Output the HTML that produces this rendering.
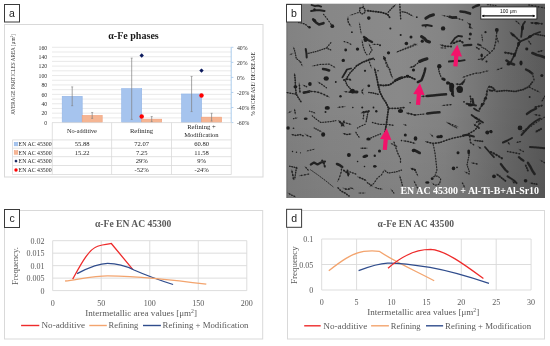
<!DOCTYPE html>
<html><head><meta charset="utf-8"><style>
html,body{margin:0;padding:0;background:#fff;width:550px;height:346px;overflow:hidden}
svg{display:block;font-family:"Liberation Serif", serif}
</style></head><body>
<svg width="550" height="346" viewBox="0 0 550 346">
<rect x="4.50" y="24.50" width="258.50" height="152.50" fill="#fff" stroke="#d9d9d9" stroke-width="1.00"/>
<rect x="4.50" y="4.50" width="15.00" height="17.50" fill="#fff" stroke="#3a3a3a" stroke-width="1.00"/>
<text x="12.00" y="17.05" font-size="10.5" text-anchor="middle" fill="#222" font-family='"Liberation Sans", sans-serif'>a</text>
<text x="133.50" y="38.60" font-size="10.00" text-anchor="middle" fill="#1a1a1a" font-weight="bold" textLength="50.5" lengthAdjust="spacingAndGlyphs">&#945;-Fe phases</text>
<line x1="52.00" y1="117.89" x2="231.20" y2="117.89" stroke="#e3e3e3" stroke-width="0.80"/>
<line x1="52.00" y1="113.19" x2="231.20" y2="113.19" stroke="#e3e3e3" stroke-width="0.80"/>
<line x1="52.00" y1="108.48" x2="231.20" y2="108.48" stroke="#e3e3e3" stroke-width="0.80"/>
<line x1="52.00" y1="103.77" x2="231.20" y2="103.77" stroke="#e3e3e3" stroke-width="0.80"/>
<line x1="52.00" y1="99.07" x2="231.20" y2="99.07" stroke="#e3e3e3" stroke-width="0.80"/>
<line x1="52.00" y1="94.36" x2="231.20" y2="94.36" stroke="#e3e3e3" stroke-width="0.80"/>
<line x1="52.00" y1="89.66" x2="231.20" y2="89.66" stroke="#e3e3e3" stroke-width="0.80"/>
<line x1="52.00" y1="84.95" x2="231.20" y2="84.95" stroke="#e3e3e3" stroke-width="0.80"/>
<line x1="52.00" y1="80.24" x2="231.20" y2="80.24" stroke="#e3e3e3" stroke-width="0.80"/>
<line x1="52.00" y1="75.54" x2="231.20" y2="75.54" stroke="#e3e3e3" stroke-width="0.80"/>
<line x1="52.00" y1="70.83" x2="231.20" y2="70.83" stroke="#e3e3e3" stroke-width="0.80"/>
<line x1="52.00" y1="66.12" x2="231.20" y2="66.12" stroke="#e3e3e3" stroke-width="0.80"/>
<line x1="52.00" y1="61.42" x2="231.20" y2="61.42" stroke="#e3e3e3" stroke-width="0.80"/>
<line x1="52.00" y1="56.71" x2="231.20" y2="56.71" stroke="#e3e3e3" stroke-width="0.80"/>
<line x1="52.00" y1="52.01" x2="231.20" y2="52.01" stroke="#e3e3e3" stroke-width="0.80"/>
<line x1="52.00" y1="47.30" x2="231.20" y2="47.30" stroke="#e3e3e3" stroke-width="0.80"/>
<text x="47.20" y="124.90" font-size="5.80" text-anchor="end" fill="#333" font-weight="normal">0</text>
<text x="47.20" y="115.49" font-size="5.80" text-anchor="end" fill="#333" font-weight="normal">20</text>
<text x="47.20" y="106.07" font-size="5.80" text-anchor="end" fill="#333" font-weight="normal">40</text>
<text x="47.20" y="96.66" font-size="5.80" text-anchor="end" fill="#333" font-weight="normal">60</text>
<text x="47.20" y="87.25" font-size="5.80" text-anchor="end" fill="#333" font-weight="normal">80</text>
<text x="47.20" y="77.84" font-size="5.80" text-anchor="end" fill="#333" font-weight="normal">100</text>
<text x="47.20" y="68.42" font-size="5.80" text-anchor="end" fill="#333" font-weight="normal">120</text>
<text x="47.20" y="59.01" font-size="5.80" text-anchor="end" fill="#333" font-weight="normal">140</text>
<text x="47.20" y="49.60" font-size="5.80" text-anchor="end" fill="#333" font-weight="normal">160</text>
<line x1="231.20" y1="47.30" x2="231.20" y2="122.60" stroke="#a3c6ea" stroke-width="0.90"/>
<line x1="231.20" y1="47.30" x2="233.40" y2="47.30" stroke="#a3c6ea" stroke-width="0.80"/>
<text x="236.90" y="49.70" font-size="5.80" text-anchor="start" fill="#333" font-weight="normal">40%</text>
<line x1="231.20" y1="62.36" x2="233.40" y2="62.36" stroke="#a3c6ea" stroke-width="0.80"/>
<text x="236.90" y="64.76" font-size="5.80" text-anchor="start" fill="#333" font-weight="normal">20%</text>
<line x1="231.20" y1="77.42" x2="233.40" y2="77.42" stroke="#a3c6ea" stroke-width="0.80"/>
<text x="236.90" y="79.82" font-size="5.80" text-anchor="start" fill="#333" font-weight="normal">0%</text>
<line x1="231.20" y1="92.48" x2="233.40" y2="92.48" stroke="#a3c6ea" stroke-width="0.80"/>
<text x="236.90" y="94.88" font-size="5.80" text-anchor="start" fill="#333" font-weight="normal">-20%</text>
<line x1="231.20" y1="107.54" x2="233.40" y2="107.54" stroke="#a3c6ea" stroke-width="0.80"/>
<text x="236.90" y="109.94" font-size="5.80" text-anchor="start" fill="#333" font-weight="normal">-40%</text>
<line x1="231.20" y1="122.60" x2="233.40" y2="122.60" stroke="#a3c6ea" stroke-width="0.80"/>
<text x="236.90" y="125.00" font-size="5.80" text-anchor="start" fill="#333" font-weight="normal">-60%</text>
<text transform="translate(15.4,74.5) rotate(-90)" font-size="5.8" text-anchor="middle" fill="#333" textLength="80.5" lengthAdjust="spacingAndGlyphs">AVERAGE PARTICLES AREA [&#956;m<tspan font-size="3.5" dy="-2">2</tspan><tspan dy="2">]</tspan></text>
<text transform="translate(255,84) rotate(-90)" font-size="5.8" text-anchor="middle" fill="#333" textLength="64" lengthAdjust="spacingAndGlyphs">% INCREASE/ DECREASE</text>
<rect x="62.20" y="96.30" width="20.00" height="26.30" fill="#a6c4ee" stroke="#8fb3e6" stroke-width="0.60"/>
<rect x="82.20" y="115.44" width="20.00" height="7.16" fill="#f5b593" stroke="#f2a07a" stroke-width="0.60"/>
<line x1="72.20" y1="86.88" x2="72.20" y2="105.70" stroke="#7f7f7f" stroke-width="0.70"/>
<line x1="71.20" y1="86.88" x2="73.20" y2="86.88" stroke="#7f7f7f" stroke-width="0.60"/>
<line x1="71.20" y1="105.70" x2="73.20" y2="105.70" stroke="#7f7f7f" stroke-width="0.60"/>
<line x1="92.20" y1="112.48" x2="92.20" y2="118.36" stroke="#7f7f7f" stroke-width="0.70"/>
<line x1="91.20" y1="112.48" x2="93.20" y2="112.48" stroke="#7f7f7f" stroke-width="0.60"/>
<line x1="91.20" y1="118.36" x2="93.20" y2="118.36" stroke="#7f7f7f" stroke-width="0.60"/>
<rect x="121.70" y="88.68" width="20.00" height="33.92" fill="#a6c4ee" stroke="#8fb3e6" stroke-width="0.60"/>
<rect x="141.70" y="119.19" width="20.00" height="3.41" fill="#f5b593" stroke="#f2a07a" stroke-width="0.60"/>
<line x1="131.70" y1="58.12" x2="131.70" y2="119.40" stroke="#7f7f7f" stroke-width="0.70"/>
<line x1="130.70" y1="58.12" x2="132.70" y2="58.12" stroke="#7f7f7f" stroke-width="0.60"/>
<line x1="130.70" y1="119.40" x2="132.70" y2="119.40" stroke="#7f7f7f" stroke-width="0.60"/>
<line x1="151.70" y1="116.48" x2="151.70" y2="121.80" stroke="#7f7f7f" stroke-width="0.70"/>
<line x1="150.70" y1="116.48" x2="152.70" y2="116.48" stroke="#7f7f7f" stroke-width="0.60"/>
<line x1="150.70" y1="121.80" x2="152.70" y2="121.80" stroke="#7f7f7f" stroke-width="0.60"/>
<rect x="181.60" y="93.99" width="20.00" height="28.61" fill="#a6c4ee" stroke="#8fb3e6" stroke-width="0.60"/>
<rect x="201.60" y="117.15" width="20.00" height="5.45" fill="#f5b593" stroke="#f2a07a" stroke-width="0.60"/>
<line x1="191.60" y1="76.48" x2="191.60" y2="111.59" stroke="#7f7f7f" stroke-width="0.70"/>
<line x1="190.60" y1="76.48" x2="192.60" y2="76.48" stroke="#7f7f7f" stroke-width="0.60"/>
<line x1="190.60" y1="111.59" x2="192.60" y2="111.59" stroke="#7f7f7f" stroke-width="0.60"/>
<line x1="211.60" y1="113.28" x2="211.60" y2="121.09" stroke="#7f7f7f" stroke-width="0.70"/>
<line x1="210.60" y1="113.28" x2="212.60" y2="113.28" stroke="#7f7f7f" stroke-width="0.60"/>
<line x1="210.60" y1="121.09" x2="212.60" y2="121.09" stroke="#7f7f7f" stroke-width="0.60"/>
<path d="M141.70 53.36l2.2 2.2l-2.2 2.2l-2.2 -2.2z" fill="#0d1b5e"/>
<path d="M201.50 68.42l2.2 2.2l-2.2 2.2l-2.2 -2.2z" fill="#0d1b5e"/>
<circle cx="141.70" cy="116.56" r="2.2" fill="#ff0000"/>
<circle cx="201.50" cy="95.47" r="2.2" fill="#ff0000"/>
<line x1="52.00" y1="122.60" x2="231.30" y2="122.60" stroke="#d9d9d9" stroke-width="0.80"/>
<line x1="12.50" y1="139.90" x2="231.30" y2="139.90" stroke="#d9d9d9" stroke-width="0.80"/>
<line x1="12.50" y1="148.20" x2="231.30" y2="148.20" stroke="#d9d9d9" stroke-width="0.80"/>
<line x1="12.50" y1="156.70" x2="231.30" y2="156.70" stroke="#d9d9d9" stroke-width="0.80"/>
<line x1="12.50" y1="165.50" x2="231.30" y2="165.50" stroke="#d9d9d9" stroke-width="0.80"/>
<line x1="12.50" y1="174.50" x2="231.30" y2="174.50" stroke="#d9d9d9" stroke-width="0.80"/>
<line x1="12.50" y1="139.90" x2="12.50" y2="174.50" stroke="#d9d9d9" stroke-width="0.80"/>
<line x1="52.30" y1="122.60" x2="52.30" y2="174.50" stroke="#d9d9d9" stroke-width="0.80"/>
<line x1="111.60" y1="122.60" x2="111.60" y2="174.50" stroke="#d9d9d9" stroke-width="0.80"/>
<line x1="171.50" y1="122.60" x2="171.50" y2="174.50" stroke="#d9d9d9" stroke-width="0.80"/>
<line x1="231.30" y1="122.60" x2="231.30" y2="174.50" stroke="#d9d9d9" stroke-width="0.80"/>
<text x="81.90" y="133.20" font-size="6.60" text-anchor="middle" fill="#262626" font-weight="normal" textLength="30.0" lengthAdjust="spacingAndGlyphs">No-additive</text>
<text x="141.50" y="133.20" font-size="6.60" text-anchor="middle" fill="#262626" font-weight="normal">Refining</text>
<text x="201.40" y="129.40" font-size="6.60" text-anchor="middle" fill="#262626" font-weight="normal">Refining +</text>
<text x="201.40" y="136.80" font-size="6.60" text-anchor="middle" fill="#262626" font-weight="normal">Modification</text>
<text x="18.60" y="146.15" font-size="6.60" text-anchor="start" fill="#262626" font-weight="normal" textLength="33.0" lengthAdjust="spacingAndGlyphs">EN AC 45300</text>
<rect x="14.20" y="142.25" width="3.60" height="3.60" fill="#a6c4ee" stroke="#8fb3e6" stroke-width="0.50"/>
<text x="82.20" y="146.15" font-size="6.60" text-anchor="middle" fill="#262626" font-weight="normal">55.88</text>
<text x="141.70" y="146.15" font-size="6.60" text-anchor="middle" fill="#262626" font-weight="normal">72.07</text>
<text x="201.60" y="146.15" font-size="6.60" text-anchor="middle" fill="#262626" font-weight="normal">60.80</text>
<text x="18.60" y="154.55" font-size="6.60" text-anchor="start" fill="#262626" font-weight="normal" textLength="33.0" lengthAdjust="spacingAndGlyphs">EN AC 43500</text>
<rect x="14.20" y="150.65" width="3.60" height="3.60" fill="#f5b593" stroke="#f2a07a" stroke-width="0.50"/>
<text x="82.20" y="154.55" font-size="6.60" text-anchor="middle" fill="#262626" font-weight="normal">15.22</text>
<text x="141.70" y="154.55" font-size="6.60" text-anchor="middle" fill="#262626" font-weight="normal">7.25</text>
<text x="201.60" y="154.55" font-size="6.60" text-anchor="middle" fill="#262626" font-weight="normal">11.58</text>
<text x="18.60" y="163.20" font-size="6.60" text-anchor="start" fill="#262626" font-weight="normal" textLength="33.0" lengthAdjust="spacingAndGlyphs">EN AC 45300</text>
<path d="M16 159.50l1.6 1.6l-1.6 1.6l-1.6 -1.6z" fill="#0f1f5c"/>
<text x="141.70" y="163.20" font-size="6.60" text-anchor="middle" fill="#262626" font-weight="normal">29%</text>
<text x="201.60" y="163.20" font-size="6.60" text-anchor="middle" fill="#262626" font-weight="normal">9%</text>
<text x="18.60" y="172.10" font-size="6.60" text-anchor="start" fill="#262626" font-weight="normal" textLength="33.0" lengthAdjust="spacingAndGlyphs">EN AC 43500</text>
<circle cx="16" cy="170.00" r="1.7" fill="#ff0000"/>
<text x="141.70" y="172.10" font-size="6.60" text-anchor="middle" fill="#262626" font-weight="normal">-52%</text>
<text x="201.60" y="172.10" font-size="6.60" text-anchor="middle" fill="#262626" font-weight="normal">-24%</text>
<defs><linearGradient id="hg" x1="0" y1="0" x2="1" y2="0"><stop offset="0.000" stop-color="#828282"/><stop offset="0.170" stop-color="#878787"/><stop offset="0.440" stop-color="#8a8a8a"/><stop offset="0.614" stop-color="#848484"/><stop offset="0.730" stop-color="#787878"/><stop offset="0.846" stop-color="#6a6a6a"/><stop offset="1.000" stop-color="#5a5a5a"/></linearGradient><linearGradient id="vg" x1="0" y1="0" x2="0" y2="1"><stop offset="0" stop-color="#000" stop-opacity="0"/><stop offset="0.5" stop-color="#000" stop-opacity="0.01"/><stop offset="1" stop-color="#000" stop-opacity="0.07"/></linearGradient></defs>
<rect x="286.30" y="3.70" width="258.70" height="194.30" fill="url(#hg)" stroke="none" stroke-width="1.00"/>
<rect x="286.30" y="3.70" width="258.70" height="194.30" fill="url(#vg)" stroke="none" stroke-width="1.00"/>
<rect x="286.30" y="3.70" width="1.60" height="194.30" fill="#000" stroke="none" stroke-width="1.00" fill-opacity="0.08"/>
<defs><clipPath id="mc"><rect x="286.3" y="3.7" width="258.7" height="194.3"/></clipPath><filter id="sb" x="-5%" y="-5%" width="110%" height="110%"><feGaussianBlur stdDeviation="0.3"/></filter></defs>
<g clip-path="url(#mc)"><g filter="url(#sb)" stroke="#222" fill="none" stroke-linecap="round" stroke-linejoin="round">
<polyline points="311.6,5.0 315.0,6.2 318.0,5.6 321.2,6.6" stroke-width="1.8"/>
<polyline points="311.2,11.0 316.0,10.2 320.0,10.3 324.5,10.9" stroke-width="2.0"/>
<polyline points="313.2,19.3 316.0,22.5 319.0,24.5 323.5,23.2" stroke-width="2.6"/>
<polyline points="298.7,22.5 302.0,23.0 305.0,24.2 307.0,25.5 308.5,27.2" stroke-width="0.60" stroke="#3a3a3a"/>
<polyline points="298.7,22.5 302.0,23.0 305.0,24.2 307.0,25.5 308.5,27.2" stroke-width="1.35" stroke-dasharray="0.4 2.2" stroke-dashoffset="0.3"/>
<polyline points="323.6,14.3 328.0,20.0 332.0,25.6" stroke-width="0.54" stroke="#3a3a3a"/>
<polyline points="323.6,14.3 328.0,20.0 332.0,25.6" stroke-width="1.22" stroke-dasharray="0.4 2.6" stroke-dashoffset="0.1"/>
<polyline points="348.0,17.0 347.8,21.0 349.5,24.5 351.0,26.5" stroke-width="0.66" stroke="#3a3a3a"/>
<polyline points="348.0,17.0 347.8,21.0 349.5,24.5 351.0,26.5" stroke-width="1.49" stroke-dasharray="0.4 2.4" stroke-dashoffset="0.7"/>
<polyline points="293.5,47.2 295.0,52.0 296.3,58.5 301.0,62.2" stroke-width="0.54" stroke="#3a3a3a"/>
<polyline points="293.5,47.2 295.0,52.0 296.3,58.5 301.0,62.2" stroke-width="1.22" stroke-dasharray="0.4 1.9" stroke-dashoffset="1.0"/>
<polyline points="289.8,54.7 293.0,53.5" stroke-width="0.48" stroke="#3a3a3a"/>
<polyline points="289.8,54.7 293.0,53.5" stroke-width="1.08" stroke-dasharray="0.4 1.8" stroke-dashoffset="0.9"/>
<polyline points="305.7,49.0 306.4,53.0 306.7,57.5" stroke-width="2.0"/>
<polyline points="306.7,53.8 316.0,51.5 326.4,48.1" stroke-width="0.54" stroke="#3a3a3a"/>
<polyline points="306.7,53.8 316.0,51.5 326.4,48.1" stroke-width="1.22" stroke-dasharray="0.4 1.9" stroke-dashoffset="0.2"/>
<polyline points="326.4,48.1 331.0,42.5" stroke-width="0.54" stroke="#3a3a3a"/>
<polyline points="326.4,48.1 331.0,42.5" stroke-width="1.22" stroke-dasharray="0.4 2.3" stroke-dashoffset="1.7"/>
<polyline points="326.4,48.1 331.0,50.0" stroke-width="0.54" stroke="#3a3a3a"/>
<polyline points="326.4,48.1 331.0,50.0" stroke-width="1.22" stroke-dasharray="0.4 1.9" stroke-dashoffset="0.4"/>
<polyline points="299.5,61.0 302.5,66.0" stroke-width="0.48" stroke="#3a3a3a"/>
<polyline points="299.5,61.0 302.5,66.0" stroke-width="1.08" stroke-dasharray="0.4 2.6" stroke-dashoffset="1.9"/>
<polyline points="312.3,66.0 320.0,64.5 329.2,64.1 335.0,67.5" stroke-width="0.54" stroke="#3a3a3a"/>
<polyline points="312.3,66.0 320.0,64.5 329.2,64.1 335.0,67.5" stroke-width="1.22" stroke-dasharray="0.4 2.5" stroke-dashoffset="0.8"/>
<polyline points="344.2,41.6 347.5,42.5 351.0,44.4" stroke-width="0.54" stroke="#3a3a3a"/>
<polyline points="344.2,41.6 347.5,42.5 351.0,44.4" stroke-width="1.22" stroke-dasharray="0.4 3.0" stroke-dashoffset="0.1"/>
<polyline points="363.0,4.0 363.5,8.0" stroke-width="0.54" stroke="#3a3a3a"/>
<polyline points="363.0,4.0 363.5,8.0" stroke-width="1.22" stroke-dasharray="0.4 2.8" stroke-dashoffset="0.6"/>
<polyline points="360.0,8.0 362.5,7.5 365.0,9.0 365.0,12.5 362.0,14.0 359.5,12.0 360.0,8.0" stroke-width="0.60" stroke="#3a3a3a"/>
<polyline points="360.0,8.0 362.5,7.5 365.0,9.0 365.0,12.5 362.0,14.0 359.5,12.0 360.0,8.0" stroke-width="1.35" stroke-dasharray="0.4 2.0" stroke-dashoffset="0.2"/>
<polyline points="366.9,10.6 370.0,11.0 374.4,11.5 382.0,12.5 387.6,14.3 389.5,17.2" stroke-width="0.84" stroke="#3a3a3a"/>
<polyline points="366.9,10.6 370.0,11.0 374.4,11.5 382.0,12.5 387.6,14.3 389.5,17.2" stroke-width="1.89" stroke-dasharray="0.4 2.2" stroke-dashoffset="1.6"/>
<polyline points="387.6,13.0 391.0,9.0 394.0,5.9" stroke-width="0.60" stroke="#3a3a3a"/>
<polyline points="387.6,13.0 391.0,9.0 394.0,5.9" stroke-width="1.35" stroke-dasharray="0.4 2.0" stroke-dashoffset="1.2"/>
<polyline points="393.0,7.8 396.0,4.0" stroke-width="0.48" stroke="#3a3a3a"/>
<polyline points="393.0,7.8 396.0,4.0" stroke-width="1.08" stroke-dasharray="0.4 2.6" stroke-dashoffset="0.7"/>
<polyline points="399.8,4.0 400.2,11.0 400.7,19.0" stroke-width="0.66" stroke="#3a3a3a"/>
<polyline points="399.8,4.0 400.2,11.0 400.7,19.0" stroke-width="1.49" stroke-dasharray="0.4 2.5" stroke-dashoffset="0.1"/>
<polyline points="400.7,11.5 406.4,12.5 413.0,16.2" stroke-width="0.60" stroke="#3a3a3a"/>
<polyline points="400.7,11.5 406.4,12.5 413.0,16.2" stroke-width="1.35" stroke-dasharray="0.4 1.9" stroke-dashoffset="0.4"/>
<polyline points="350.0,15.3 354.0,14.0 358.5,12.5" stroke-width="0.48" stroke="#3a3a3a"/>
<polyline points="350.0,15.3 354.0,14.0 358.5,12.5" stroke-width="1.08" stroke-dasharray="0.4 2.6" stroke-dashoffset="0.9"/>
<polyline points="359.4,22.8 360.2,28.0 361.3,34.0" stroke-width="0.48" stroke="#3a3a3a"/>
<polyline points="359.4,22.8 360.2,28.0 361.3,34.0" stroke-width="1.08" stroke-dasharray="0.4 2.2" stroke-dashoffset="1.2"/>
<polyline points="364.0,37.0 368.0,40.0 372.0,42.0" stroke-width="2.4"/>
<polyline points="362.0,40.0 363.0,46.0 365.0,52.0 366.9,54.7" stroke-width="0.54" stroke="#3a3a3a"/>
<polyline points="362.0,40.0 363.0,46.0 365.0,52.0 366.9,54.7" stroke-width="1.22" stroke-dasharray="0.4 2.3" stroke-dashoffset="0.6"/>
<polyline points="372.5,44.4 378.2,44.4" stroke-width="0.54" stroke="#3a3a3a"/>
<polyline points="372.5,44.4 378.2,44.4" stroke-width="1.22" stroke-dasharray="0.4 2.8" stroke-dashoffset="1.4"/>
<polyline points="369.0,44.0 372.0,50.0 369.5,54.0" stroke-width="0.54" stroke="#3a3a3a"/>
<polyline points="369.0,44.0 372.0,50.0 369.5,54.0" stroke-width="1.22" stroke-dasharray="0.4 2.1" stroke-dashoffset="1.1"/>
<polyline points="355.6,66.0 363.0,62.0 370.7,58.5 374.4,59.5" stroke-width="0.60" stroke="#3a3a3a"/>
<polyline points="355.6,66.0 363.0,62.0 370.7,58.5 374.4,59.5" stroke-width="1.35" stroke-dasharray="0.4 2.4" stroke-dashoffset="1.8"/>
<polyline points="368.8,60.0 370.0,64.0 371.6,68.0" stroke-width="0.54" stroke="#3a3a3a"/>
<polyline points="368.8,60.0 370.0,64.0 371.6,68.0" stroke-width="1.22" stroke-dasharray="0.4 2.7" stroke-dashoffset="0.6"/>
<polyline points="383.8,56.6 385.5,62.0 387.6,67.9" stroke-width="0.54" stroke="#3a3a3a"/>
<polyline points="383.8,56.6 385.5,62.0 387.6,67.9" stroke-width="1.22" stroke-dasharray="0.4 3.0" stroke-dashoffset="0.2"/>
<polyline points="397.0,52.0 405.0,48.5 414.8,44.4" stroke-width="0.48" stroke="#3a3a3a"/>
<polyline points="397.0,52.0 405.0,48.5 414.8,44.4" stroke-width="1.08" stroke-dasharray="0.4 2.3" stroke-dashoffset="1.5"/>
<polyline points="410.0,67.5 415.0,66.0" stroke-width="0.72" stroke="#3a3a3a"/>
<polyline points="410.0,67.5 415.0,66.0" stroke-width="1.62" stroke-dasharray="0.4 2.0" stroke-dashoffset="1.0"/>
<polyline points="425.8,18.3 429.5,16.0 433.5,14.8" stroke-width="3.0"/>
<polyline points="422.5,25.5 427.0,25.0 431.8,26.0" stroke-width="2.0"/>
<polyline points="425.5,25.0 425.8,27.8" stroke-width="0.72" stroke="#3a3a3a"/>
<polyline points="425.5,25.0 425.8,27.8" stroke-width="1.62" stroke-dasharray="0.4 1.8" stroke-dashoffset="1.3"/>
<polyline points="421.5,36.5 424.5,38.5 426.5,41.0 429.5,42.0" stroke-width="3.0"/>
<polyline points="442.2,15.3 450.0,17.0 456.0,18.0 462.8,20.0" stroke-width="0.54" stroke="#3a3a3a"/>
<polyline points="442.2,15.3 450.0,17.0 456.0,18.0 462.8,20.0" stroke-width="1.22" stroke-dasharray="0.4 2.7" stroke-dashoffset="1.1"/>
<polyline points="449.5,16.8 452.0,17.6 456.0,17.4" stroke-width="2.6"/>
<polyline points="460.5,11.5 465.0,12.0 470.0,13.6" stroke-width="2.6"/>
<polyline points="473.0,7.5 476.0,6.0 479.0,5.0" stroke-width="2.4"/>
<polyline points="467.5,22.8 470.0,24.5 469.5,27.0 472.2,28.4" stroke-width="0.96" stroke="#3a3a3a"/>
<polyline points="467.5,22.8 470.0,24.5 469.5,27.0 472.2,28.4" stroke-width="2.16" stroke-dasharray="0.4 2.9" stroke-dashoffset="0.6"/>
<polyline points="451.0,43.5 455.0,38.0 458.5,35.8 462.0,36.5" stroke-width="1.8"/>
<polyline points="452.5,43.8 457.0,41.5 460.5,40.8 462.8,42.5" stroke-width="0.96" stroke="#3a3a3a"/>
<polyline points="452.5,43.8 457.0,41.5 460.5,40.8 462.8,42.5" stroke-width="2.16" stroke-dasharray="0.4 2.6" stroke-dashoffset="1.2"/>
<polyline points="440.3,44.8 445.0,46.2 451.6,46.5" stroke-width="0.84" stroke="#3a3a3a"/>
<polyline points="440.3,44.8 445.0,46.2 451.6,46.5" stroke-width="1.89" stroke-dasharray="0.4 2.5" stroke-dashoffset="0.9"/>
<polyline points="440.5,47.8 446.0,48.1" stroke-width="0.48" stroke="#3a3a3a"/>
<polyline points="440.5,47.8 446.0,48.1" stroke-width="1.08" stroke-dasharray="0.4 2.8" stroke-dashoffset="1.9"/>
<polyline points="463.8,45.5 467.0,45.2 471.3,44.8" stroke-width="2.2"/>
<polyline points="419.5,61.5 423.0,60.0 427.0,58.8" stroke-width="3.0"/>
<polyline points="414.0,66.0 418.0,63.0" stroke-width="0.60" stroke="#3a3a3a"/>
<polyline points="414.0,66.0 418.0,63.0" stroke-width="1.35" stroke-dasharray="0.4 2.4" stroke-dashoffset="1.3"/>
<polyline points="449.0,61.6 455.0,61.0 459.0,60.8" stroke-width="2.0"/>
<polyline points="459.0,61.2 464.7,60.2" stroke-width="1.8"/>
<polyline points="476.0,47.2 479.0,49.0" stroke-width="0.72" stroke="#3a3a3a"/>
<polyline points="476.0,47.2 479.0,49.0" stroke-width="1.62" stroke-dasharray="0.4 1.9" stroke-dashoffset="1.4"/>
<polyline points="414.0,44.0 417.0,45.0" stroke-width="0.60" stroke="#3a3a3a"/>
<polyline points="414.0,44.0 417.0,45.0" stroke-width="1.35" stroke-dasharray="0.4 2.6" stroke-dashoffset="2.0"/>
<polyline points="496.8,30.0 496.8,32.1 495.8,41.5 494.0,49.0 490.2,52.8 485.5,56.5 481.8,60.3" stroke-width="0.66" stroke="#3a3a3a"/>
<polyline points="496.8,30.0 496.8,32.1 495.8,41.5 494.0,49.0 490.2,52.8 485.5,56.5 481.8,60.3" stroke-width="1.49" stroke-dasharray="0.4 2.8" stroke-dashoffset="0.6"/>
<polyline points="496.8,37.0 498.6,43.0" stroke-width="0.54" stroke="#3a3a3a"/>
<polyline points="496.8,37.0 498.6,43.0" stroke-width="1.22" stroke-dasharray="0.4 2.3" stroke-dashoffset="1.3"/>
<polyline points="490.2,52.8 485.5,49.0 481.8,47.2" stroke-width="0.54" stroke="#3a3a3a"/>
<polyline points="490.2,52.8 485.5,49.0 481.8,47.2" stroke-width="1.22" stroke-dasharray="0.4 1.8" stroke-dashoffset="0.9"/>
<polyline points="478.0,44.3 480.8,45.3" stroke-width="1.8"/>
<polyline points="481.8,35.0 482.7,41.5" stroke-width="0.48" stroke="#3a3a3a"/>
<polyline points="481.8,35.0 482.7,41.5" stroke-width="1.08" stroke-dasharray="0.4 2.0" stroke-dashoffset="0.2"/>
<polyline points="478.0,59.5 483.6,58.6" stroke-width="0.60" stroke="#3a3a3a"/>
<polyline points="478.0,59.5 483.6,58.6" stroke-width="1.35" stroke-dasharray="0.4 1.9" stroke-dashoffset="1.5"/>
<polyline points="509.9,32.2 515.5,36.8 520.2,41.5 517.4,47.2 515.5,52.8 512.7,58.4 510.8,62.2" stroke-width="0.90" stroke="#3a3a3a"/>
<polyline points="509.9,32.2 515.5,36.8 520.2,41.5 517.4,47.2 515.5,52.8 512.7,58.4 510.8,62.2" stroke-width="2.03" stroke-dasharray="0.4 2.0" stroke-dashoffset="0.5"/>
<polyline points="521.2,36.8 522.0,30.0 523.0,24.6 525.0,21.8" stroke-width="1.8"/>
<polyline points="515.5,20.9 518.0,22.5 520.0,25.0" stroke-width="0.60" stroke="#3a3a3a"/>
<polyline points="515.5,20.9 518.0,22.5 520.0,25.0" stroke-width="1.35" stroke-dasharray="0.4 2.3" stroke-dashoffset="1.7"/>
<polyline points="520.2,41.5 526.8,38.7 534.3,34.0 540.0,32.0" stroke-width="1.8"/>
<polyline points="534.3,34.0 540.0,35.0 545.0,35.9" stroke-width="0.72" stroke="#3a3a3a"/>
<polyline points="534.3,34.0 540.0,35.0 545.0,35.9" stroke-width="1.62" stroke-dasharray="0.4 1.9" stroke-dashoffset="0.9"/>
<polyline points="506.5,60.5 510.0,63.0 514.0,64.5" stroke-width="2.6"/>
<polyline points="504.3,52.5 510.0,53.3 515.5,54.7" stroke-width="0.96" stroke="#3a3a3a"/>
<polyline points="504.3,52.5 510.0,53.3 515.5,54.7" stroke-width="2.16" stroke-dasharray="0.4 2.5" stroke-dashoffset="1.8"/>
<polyline points="530.5,22.8 536.0,23.2 541.8,23.7" stroke-width="0.90" stroke="#3a3a3a"/>
<polyline points="530.5,22.8 536.0,23.2 541.8,23.7" stroke-width="2.03" stroke-dasharray="0.4 2.8" stroke-dashoffset="1.7"/>
<polyline points="532.4,53.0 537.0,55.0 541.0,56.0 545.0,57.5" stroke-width="2.6"/>
<polyline points="537.0,52.0 543.0,50.5" stroke-width="0.72" stroke="#3a3a3a"/>
<polyline points="537.0,52.0 543.0,50.5" stroke-width="1.62" stroke-dasharray="0.4 2.1" stroke-dashoffset="0.8"/>
<polyline points="487.0,4.5 496.0,5.5" stroke-width="0.48" stroke="#3a3a3a"/>
<polyline points="487.0,4.5 496.0,5.5" stroke-width="1.08" stroke-dasharray="0.4 2.2" stroke-dashoffset="1.8"/>
<polyline points="529.0,5.0 545.0,8.0" stroke-width="0.60" stroke="#3a3a3a"/>
<polyline points="529.0,5.0 545.0,8.0" stroke-width="1.35" stroke-dasharray="0.4 2.9" stroke-dashoffset="0.3"/>
<polyline points="528.0,40.0 531.0,44.5" stroke-width="0.60" stroke="#3a3a3a"/>
<polyline points="528.0,40.0 531.0,44.5" stroke-width="1.35" stroke-dasharray="0.4 2.0" stroke-dashoffset="0.5"/>
<polyline points="294.5,73.6 295.2,80.0 295.5,88.0 296.3,94.3 298.5,98.0 301.0,101.8" stroke-width="0.72" stroke="#3a3a3a"/>
<polyline points="294.5,73.6 295.2,80.0 295.5,88.0 296.3,94.3 298.5,98.0 301.0,101.8" stroke-width="1.62" stroke-dasharray="0.4 2.1" stroke-dashoffset="1.0"/>
<polyline points="299.2,83.0 299.6,88.0 300.0,92.4" stroke-width="0.72" stroke="#3a3a3a"/>
<polyline points="299.2,83.0 299.6,88.0 300.0,92.4" stroke-width="1.62" stroke-dasharray="0.4 2.5" stroke-dashoffset="0.5"/>
<polyline points="303.0,85.0 306.7,86.8" stroke-width="0.60" stroke="#3a3a3a"/>
<polyline points="303.0,85.0 306.7,86.8" stroke-width="1.35" stroke-dasharray="0.4 1.8" stroke-dashoffset="0.8"/>
<polyline points="286.0,92.4 292.0,93.5 297.3,94.3" stroke-width="0.60" stroke="#3a3a3a"/>
<polyline points="286.0,92.4 292.0,93.5 297.3,94.3" stroke-width="1.35" stroke-dasharray="0.4 2.2" stroke-dashoffset="1.1"/>
<polyline points="303.8,92.6 307.0,92.0 309.5,91.4" stroke-width="2.6"/>
<polyline points="309.5,91.4 314.2,91.5 319.0,92.5 323.6,94.3 329.2,97.1" stroke-width="0.72" stroke="#3a3a3a"/>
<polyline points="309.5,91.4 314.2,91.5 319.0,92.5 323.6,94.3 329.2,97.1" stroke-width="1.62" stroke-dasharray="0.4 2.9" stroke-dashoffset="1.4"/>
<polyline points="318.0,82.0 322.0,84.5 326.4,87.7" stroke-width="0.60" stroke="#3a3a3a"/>
<polyline points="318.0,82.0 322.0,84.5 326.4,87.7" stroke-width="1.35" stroke-dasharray="0.4 2.4" stroke-dashoffset="1.2"/>
<polyline points="323.0,69.0 326.0,69.5 329.2,70.5" stroke-width="2.4"/>
<polyline points="342.4,77.4 345.0,73.0 347.0,69.5 351.0,68.5" stroke-width="1.8"/>
<polyline points="344.0,80.0 348.0,79.0 351.0,80.0" stroke-width="0.84" stroke="#3a3a3a"/>
<polyline points="344.0,80.0 348.0,79.0 351.0,80.0" stroke-width="1.89" stroke-dasharray="0.4 2.6" stroke-dashoffset="0.1"/>
<polyline points="344.2,91.5 351.0,92.4" stroke-width="0.60" stroke="#3a3a3a"/>
<polyline points="344.2,91.5 351.0,92.4" stroke-width="1.35" stroke-dasharray="0.4 2.9" stroke-dashoffset="1.6"/>
<polyline points="337.7,107.5 341.0,107.0 345.2,106.5" stroke-width="0.60" stroke="#3a3a3a"/>
<polyline points="337.7,107.5 341.0,107.0 345.2,106.5" stroke-width="1.35" stroke-dasharray="0.4 2.8" stroke-dashoffset="1.6"/>
<polyline points="287.9,113.0 291.6,111.2" stroke-width="0.54" stroke="#3a3a3a"/>
<polyline points="287.9,113.0 291.6,111.2" stroke-width="1.22" stroke-dasharray="0.4 2.3" stroke-dashoffset="0.8"/>
<polyline points="294.5,109.3 295.4,114.0" stroke-width="0.60" stroke="#3a3a3a"/>
<polyline points="294.5,109.3 295.4,114.0" stroke-width="1.35" stroke-dasharray="0.4 1.9" stroke-dashoffset="1.3"/>
<polyline points="293.5,118.7 297.3,117.8" stroke-width="0.54" stroke="#3a3a3a"/>
<polyline points="293.5,118.7 297.3,117.8" stroke-width="1.22" stroke-dasharray="0.4 1.9" stroke-dashoffset="0.1"/>
<polyline points="309.5,111.2 312.5,112.0 315.1,113.1" stroke-width="0.54" stroke="#3a3a3a"/>
<polyline points="309.5,111.2 312.5,112.0 315.1,113.1" stroke-width="1.22" stroke-dasharray="0.4 2.1" stroke-dashoffset="0.3"/>
<polyline points="312.3,115.9 316.0,119.0 320.8,122.5 326.0,122.0 331.1,121.5 335.8,120.6" stroke-width="0.54" stroke="#3a3a3a"/>
<polyline points="312.3,115.9 316.0,119.0 320.8,122.5 326.0,122.0 331.1,121.5 335.8,120.6" stroke-width="1.22" stroke-dasharray="0.4 2.2" stroke-dashoffset="0.1"/>
<polyline points="314.2,128.0 318.0,130.0 321.7,131.9" stroke-width="0.54" stroke="#3a3a3a"/>
<polyline points="314.2,128.0 318.0,130.0 321.7,131.9" stroke-width="1.22" stroke-dasharray="0.4 1.8" stroke-dashoffset="0.3"/>
<polyline points="338.6,120.6 341.5,123.5 344.2,126.2" stroke-width="0.96" stroke="#3a3a3a"/>
<polyline points="338.6,120.6 341.5,123.5 344.2,126.2" stroke-width="2.16" stroke-dasharray="0.4 1.9" stroke-dashoffset="0.7"/>
<polyline points="341.5,126.0 344.0,121.0" stroke-width="0.72" stroke="#3a3a3a"/>
<polyline points="341.5,126.0 344.0,121.0" stroke-width="1.62" stroke-dasharray="0.4 1.8" stroke-dashoffset="1.7"/>
<polyline points="344.2,122.5 351.0,124.4" stroke-width="0.60" stroke="#3a3a3a"/>
<polyline points="344.2,122.5 351.0,124.4" stroke-width="1.35" stroke-dasharray="0.4 2.5" stroke-dashoffset="0.3"/>
<polyline points="374.4,68.0 376.3,75.5 378.2,84.9 380.0,92.4 382.9,98.0 386.6,103.7 388.5,108.4 387.6,115.0 386.6,122.5 385.7,128.0 385.0,133.0" stroke-width="0.84" stroke="#3a3a3a"/>
<polyline points="374.4,68.0 376.3,75.5 378.2,84.9 380.0,92.4 382.9,98.0 386.6,103.7 388.5,108.4 387.6,115.0 386.6,122.5 385.7,128.0 385.0,133.0" stroke-width="1.89" stroke-dasharray="0.4 2.1" stroke-dashoffset="0.7"/>
<polyline points="378.2,85.0 384.0,85.5 389.5,84.9 395.0,81.2 400.7,78.3 406.4,76.5 410.0,77.0 415.0,79.3" stroke-width="0.90" stroke="#3a3a3a"/>
<polyline points="378.2,85.0 384.0,85.5 389.5,84.9 395.0,81.2 400.7,78.3 406.4,76.5 410.0,77.0 415.0,79.3" stroke-width="2.03" stroke-dasharray="0.4 2.2" stroke-dashoffset="0.2"/>
<polyline points="395.0,80.5 399.0,78.5 402.0,77.5" stroke-width="2.4"/>
<polyline points="389.5,68.0 390.5,72.0 391.3,75.5" stroke-width="0.48" stroke="#3a3a3a"/>
<polyline points="389.5,68.0 390.5,72.0 391.3,75.5" stroke-width="1.08" stroke-dasharray="0.4 2.8" stroke-dashoffset="2.0"/>
<polyline points="351.0,91.5 354.0,91.8 357.0,92.0" stroke-width="3.0"/>
<polyline points="363.5,88.7 361.6,91.5 363.5,94.3" stroke-width="0.66" stroke="#3a3a3a"/>
<polyline points="363.5,88.7 361.6,91.5 363.5,94.3" stroke-width="1.49" stroke-dasharray="0.4 2.4" stroke-dashoffset="1.0"/>
<polyline points="368.8,92.4 373.0,93.0 378.2,94.3" stroke-width="0.66" stroke="#3a3a3a"/>
<polyline points="368.8,92.4 373.0,93.0 378.2,94.3" stroke-width="1.49" stroke-dasharray="0.4 1.9" stroke-dashoffset="0.2"/>
<polyline points="361.3,113.0 364.0,112.0 368.8,111.2" stroke-width="0.96" stroke="#3a3a3a"/>
<polyline points="361.3,113.0 364.0,112.0 368.8,111.2" stroke-width="2.16" stroke-dasharray="0.4 2.2" stroke-dashoffset="0.5"/>
<polyline points="364.0,112.5 363.2,118.7" stroke-width="0.60" stroke="#3a3a3a"/>
<polyline points="364.0,112.5 363.2,118.7" stroke-width="1.35" stroke-dasharray="0.4 2.8" stroke-dashoffset="0.3"/>
<polyline points="368.0,112.0 367.0,117.0 366.0,122.5" stroke-width="0.60" stroke="#3a3a3a"/>
<polyline points="368.0,112.0 367.0,117.0 366.0,122.5" stroke-width="1.35" stroke-dasharray="0.4 1.8" stroke-dashoffset="1.9"/>
<polyline points="357.5,128.0 361.0,126.0 365.0,124.4" stroke-width="0.54" stroke="#3a3a3a"/>
<polyline points="357.5,128.0 361.0,126.0 365.0,124.4" stroke-width="1.22" stroke-dasharray="0.4 2.4" stroke-dashoffset="0.3"/>
<polyline points="372.5,122.5 376.0,123.5 380.0,124.4 387.6,124.4 393.2,125.3" stroke-width="0.60" stroke="#3a3a3a"/>
<polyline points="372.5,122.5 376.0,123.5 380.0,124.4 387.6,124.4 393.2,125.3" stroke-width="1.35" stroke-dasharray="0.4 2.5" stroke-dashoffset="0.1"/>
<polyline points="388.5,108.4 393.0,108.4 397.0,108.4 404.5,107.5" stroke-width="0.72" stroke="#3a3a3a"/>
<polyline points="388.5,108.4 393.0,108.4 397.0,108.4 404.5,107.5" stroke-width="1.62" stroke-dasharray="0.4 2.4" stroke-dashoffset="2.0"/>
<polyline points="406.4,113.0 411.0,114.0 415.0,115.0" stroke-width="0.84" stroke="#3a3a3a"/>
<polyline points="406.4,113.0 411.0,114.0 415.0,115.0" stroke-width="1.89" stroke-dasharray="0.4 2.8" stroke-dashoffset="1.4"/>
<polyline points="403.5,124.4 406.4,125.3" stroke-width="0.60" stroke="#3a3a3a"/>
<polyline points="403.5,124.4 406.4,125.3" stroke-width="1.35" stroke-dasharray="0.4 2.1" stroke-dashoffset="0.7"/>
<polyline points="425.3,68.5 424.5,72.0 423.4,75.5 421.5,80.2 417.8,82.1" stroke-width="2.4"/>
<polyline points="438.4,68.0 439.5,73.0 441.2,77.4" stroke-width="0.60" stroke="#3a3a3a"/>
<polyline points="438.4,68.0 439.5,73.0 441.2,77.4" stroke-width="1.35" stroke-dasharray="0.4 2.0" stroke-dashoffset="1.5"/>
<polyline points="449.5,83.0 452.0,88.0 453.0,92.0" stroke-width="1.8"/>
<polyline points="456.0,84.0 460.0,84.5 463.8,82.0" stroke-width="0.84" stroke="#3a3a3a"/>
<polyline points="456.0,84.0 460.0,84.5 463.8,82.0" stroke-width="1.89" stroke-dasharray="0.4 2.4" stroke-dashoffset="1.6"/>
<polyline points="463.0,82.0 465.5,79.0" stroke-width="0.60" stroke="#3a3a3a"/>
<polyline points="463.0,82.0 465.5,79.0" stroke-width="1.35" stroke-dasharray="0.4 2.2" stroke-dashoffset="0.4"/>
<polyline points="462.8,77.4 468.0,75.5 474.1,73.6 479.0,72.7" stroke-width="0.60" stroke="#3a3a3a"/>
<polyline points="462.8,77.4 468.0,75.5 474.1,73.6 479.0,72.7" stroke-width="1.35" stroke-dasharray="0.4 2.8" stroke-dashoffset="2.0"/>
<polyline points="427.0,96.0 433.0,95.5 440.0,94.8 446.0,94.3" stroke-width="2.6"/>
<polyline points="421.5,96.5 427.0,96.0" stroke-width="0.72" stroke="#3a3a3a"/>
<polyline points="421.5,96.5 427.0,96.0" stroke-width="1.62" stroke-dasharray="0.4 2.8" stroke-dashoffset="1.6"/>
<polyline points="442.2,105.6 447.0,105.0 451.6,104.6" stroke-width="0.60" stroke="#3a3a3a"/>
<polyline points="442.2,105.6 447.0,105.0 451.6,104.6" stroke-width="1.35" stroke-dasharray="0.4 2.8" stroke-dashoffset="1.5"/>
<polyline points="414.0,115.0 420.0,114.5 425.3,114.0" stroke-width="0.54" stroke="#3a3a3a"/>
<polyline points="414.0,115.0 420.0,114.5 425.3,114.0" stroke-width="1.22" stroke-dasharray="0.4 2.1" stroke-dashoffset="1.0"/>
<polyline points="427.2,113.5 433.0,112.8 439.4,112.3" stroke-width="2.6"/>
<polyline points="466.6,103.7 471.0,104.5 476.0,105.6" stroke-width="2.0"/>
<polyline points="470.3,96.2 471.0,100.0 470.5,103.5" stroke-width="0.72" stroke="#3a3a3a"/>
<polyline points="470.3,96.2 471.0,100.0 470.5,103.5" stroke-width="1.62" stroke-dasharray="0.4 2.2" stroke-dashoffset="0.1"/>
<polyline points="474.0,108.5 477.0,110.5 479.0,111.0" stroke-width="1.8"/>
<polyline points="446.9,122.5 452.0,125.5 457.2,128.1" stroke-width="0.48" stroke="#3a3a3a"/>
<polyline points="446.9,122.5 452.0,125.5 457.2,128.1" stroke-width="1.08" stroke-dasharray="0.4 1.8" stroke-dashoffset="0.6"/>
<polyline points="474.0,124.4 479.0,128.0" stroke-width="0.84" stroke="#3a3a3a"/>
<polyline points="474.0,124.4 479.0,128.0" stroke-width="1.89" stroke-dasharray="0.4 2.1" stroke-dashoffset="1.4"/>
<polyline points="478.0,73.6 483.0,72.0 488.3,70.8" stroke-width="0.54" stroke="#3a3a3a"/>
<polyline points="478.0,73.6 483.0,72.0 488.3,70.8" stroke-width="1.22" stroke-dasharray="0.4 2.9" stroke-dashoffset="0.9"/>
<polyline points="496.8,69.9 502.4,68.0" stroke-width="0.60" stroke="#3a3a3a"/>
<polyline points="496.8,69.9 502.4,68.0" stroke-width="1.35" stroke-dasharray="0.4 2.9" stroke-dashoffset="2.0"/>
<polyline points="526.0,69.5 529.0,71.0 532.4,73.6" stroke-width="2.4"/>
<polyline points="532.4,73.6 533.5,77.5 534.3,81.1" stroke-width="0.60" stroke="#3a3a3a"/>
<polyline points="532.4,73.6 533.5,77.5 534.3,81.1" stroke-width="1.35" stroke-dasharray="0.4 2.9" stroke-dashoffset="0.7"/>
<polyline points="487.4,88.2 489.5,86.5 492.5,87.5 494.9,90.0 491.0,91.0 488.5,89.5" stroke-width="0.90" stroke="#3a3a3a"/>
<polyline points="487.4,88.2 489.5,86.5 492.5,87.5 494.9,90.0 491.0,91.0 488.5,89.5" stroke-width="2.03" stroke-dasharray="0.4 2.1" stroke-dashoffset="0.5"/>
<polyline points="494.9,91.5 500.0,91.0 506.2,90.5 510.0,91.0 515.5,91.5 519.0,90.5 523.0,89.6 528.7,86.8 532.4,82.1" stroke-width="0.78" stroke="#3a3a3a"/>
<polyline points="494.9,91.5 500.0,91.0 506.2,90.5 510.0,91.0 515.5,91.5 519.0,90.5 523.0,89.6 528.7,86.8 532.4,82.1" stroke-width="1.76" stroke-dasharray="0.4 2.0" stroke-dashoffset="0.4"/>
<polyline points="528.7,86.8 534.0,89.5 539.9,92.4" stroke-width="0.60" stroke="#3a3a3a"/>
<polyline points="528.7,86.8 534.0,89.5 539.9,92.4" stroke-width="1.35" stroke-dasharray="0.4 2.5" stroke-dashoffset="1.8"/>
<polyline points="487.4,89.0 486.4,96.2 484.5,100.0 483.6,103.7 481.5,106.0 479.9,108.4 478.5,111.0" stroke-width="0.90" stroke="#3a3a3a"/>
<polyline points="487.4,89.0 486.4,96.2 484.5,100.0 483.6,103.7 481.5,106.0 479.9,108.4 478.5,111.0" stroke-width="2.03" stroke-dasharray="0.4 2.8" stroke-dashoffset="1.0"/>
<polyline points="526.8,114.0 531.0,111.0 536.2,108.4" stroke-width="2.2"/>
<polyline points="534.3,107.4 538.0,106.5 541.8,105.6" stroke-width="0.90" stroke="#3a3a3a"/>
<polyline points="534.3,107.4 538.0,106.5 541.8,105.6" stroke-width="2.03" stroke-dasharray="0.4 2.6" stroke-dashoffset="1.6"/>
<polyline points="541.8,101.5 545.0,96.0" stroke-width="0.60" stroke="#3a3a3a"/>
<polyline points="541.8,101.5 545.0,96.0" stroke-width="1.35" stroke-dasharray="0.4 1.9" stroke-dashoffset="1.3"/>
<polyline points="534.3,114.5 540.0,115.5" stroke-width="0.72" stroke="#3a3a3a"/>
<polyline points="534.3,114.5 540.0,115.5" stroke-width="1.62" stroke-dasharray="0.4 2.9" stroke-dashoffset="1.6"/>
<polyline points="521.2,131.8 530.0,127.0 538.0,121.5 545.0,116.8" stroke-width="0.54" stroke="#3a3a3a"/>
<polyline points="521.2,131.8 530.0,127.0 538.0,121.5 545.0,116.8" stroke-width="1.22" stroke-dasharray="0.4 2.7" stroke-dashoffset="1.0"/>
<polyline points="478.0,121.0 481.0,124.0" stroke-width="0.60" stroke="#3a3a3a"/>
<polyline points="478.0,121.0 481.0,124.0" stroke-width="1.35" stroke-dasharray="0.4 2.0" stroke-dashoffset="1.6"/>
<polyline points="291.7,134.5 296.0,135.5 300.0,134.5 303.2,135.8" stroke-width="0.66" stroke="#3a3a3a"/>
<polyline points="291.7,134.5 296.0,135.5 300.0,134.5 303.2,135.8" stroke-width="1.49" stroke-dasharray="0.4 2.2" stroke-dashoffset="1.6"/>
<polyline points="305.0,134.0 308.0,136.0 310.8,136.8" stroke-width="0.66" stroke="#3a3a3a"/>
<polyline points="305.0,134.0 308.0,136.0 310.8,136.8" stroke-width="1.49" stroke-dasharray="0.4 3.0" stroke-dashoffset="0.8"/>
<polyline points="307.0,151.0 311.0,150.0 314.6,149.2" stroke-width="0.48" stroke="#3a3a3a"/>
<polyline points="307.0,151.0 311.0,150.0 314.6,149.2" stroke-width="1.08" stroke-dasharray="0.4 2.3" stroke-dashoffset="1.9"/>
<polyline points="310.8,164.5 314.0,162.5 317.5,164.5 321.0,162.5 325.0,161.5" stroke-width="2.2"/>
<polyline points="322.2,160.6 324.0,163.5 325.0,167.3" stroke-width="0.96" stroke="#3a3a3a"/>
<polyline points="322.2,160.6 324.0,163.5 325.0,167.3" stroke-width="2.16" stroke-dasharray="0.4 2.7" stroke-dashoffset="0.3"/>
<polyline points="289.8,166.3 293.5,167.0 297.4,168.2" stroke-width="0.60" stroke="#3a3a3a"/>
<polyline points="289.8,166.3 293.5,167.0 297.4,168.2" stroke-width="1.35" stroke-dasharray="0.4 2.0" stroke-dashoffset="0.3"/>
<polyline points="291.7,170.0 292.8,175.0 293.6,179.7" stroke-width="0.72" stroke="#3a3a3a"/>
<polyline points="291.7,170.0 292.8,175.0 293.6,179.7" stroke-width="1.62" stroke-dasharray="0.4 2.9" stroke-dashoffset="1.6"/>
<polyline points="296.5,167.0 295.6,173.0 294.6,179.5" stroke-width="0.60" stroke="#3a3a3a"/>
<polyline points="296.5,167.0 295.6,173.0 294.6,179.5" stroke-width="1.35" stroke-dasharray="0.4 2.0" stroke-dashoffset="1.7"/>
<polyline points="299.3,175.8 304.0,175.0 308.9,174.0" stroke-width="0.60" stroke="#3a3a3a"/>
<polyline points="299.3,175.8 304.0,175.0 308.9,174.0" stroke-width="1.35" stroke-dasharray="0.4 3.0" stroke-dashoffset="1.3"/>
<polyline points="305.0,166.5 308.5,170.5" stroke-width="0.60" stroke="#3a3a3a"/>
<polyline points="305.0,166.5 308.5,170.5" stroke-width="1.35" stroke-dasharray="0.4 2.2" stroke-dashoffset="1.1"/>
<polyline points="310.8,170.0 318.0,175.0 326.0,181.0 333.7,187.3" stroke-width="0.42" stroke="#3a3a3a"/>
<polyline points="310.8,170.0 318.0,175.0 326.0,181.0 333.7,187.3" stroke-width="0.94" stroke-dasharray="0.4 2.0" stroke-dashoffset="0.0"/>
<polyline points="337.0,164.0 339.5,165.0 342.2,167.0" stroke-width="2.6"/>
<polyline points="341.3,167.3 341.5,171.0 339.4,177.7 337.5,181.6" stroke-width="0.60" stroke="#3a3a3a"/>
<polyline points="341.3,167.3 341.5,171.0 339.4,177.7 337.5,181.6" stroke-width="1.35" stroke-dasharray="0.4 3.0" stroke-dashoffset="1.3"/>
<polyline points="343.2,170.0 346.0,172.0 348.9,174.0" stroke-width="0.84" stroke="#3a3a3a"/>
<polyline points="343.2,170.0 346.0,172.0 348.9,174.0" stroke-width="1.89" stroke-dasharray="0.4 2.4" stroke-dashoffset="1.9"/>
<polyline points="347.5,170.5 348.2,175.5" stroke-width="1.8"/>
<polyline points="337.5,187.3 341.0,191.0 345.0,193.0 349.0,196.0" stroke-width="0.72" stroke="#3a3a3a"/>
<polyline points="337.5,187.3 341.0,191.0 345.0,193.0 349.0,196.0" stroke-width="1.62" stroke-dasharray="0.4 2.3" stroke-dashoffset="1.7"/>
<polyline points="343.0,188.0 347.0,189.5 351.0,188.5" stroke-width="0.72" stroke="#3a3a3a"/>
<polyline points="343.0,188.0 347.0,189.5 351.0,188.5" stroke-width="1.62" stroke-dasharray="0.4 2.8" stroke-dashoffset="0.4"/>
<polyline points="287.9,193.0 291.5,195.0 295.5,196.8" stroke-width="0.60" stroke="#3a3a3a"/>
<polyline points="287.9,193.0 291.5,195.0 295.5,196.8" stroke-width="1.35" stroke-dasharray="0.4 2.1" stroke-dashoffset="0.6"/>
<polyline points="343.2,133.5 347.0,134.5 351.0,134.0" stroke-width="0.72" stroke="#3a3a3a"/>
<polyline points="343.2,133.5 347.0,134.5 351.0,134.0" stroke-width="1.62" stroke-dasharray="0.4 2.1" stroke-dashoffset="1.2"/>
<polyline points="367.2,139.6 374.0,136.5 380.5,133.9" stroke-width="0.54" stroke="#3a3a3a"/>
<polyline points="367.2,139.6 374.0,136.5 380.5,133.9" stroke-width="1.22" stroke-dasharray="0.4 2.1" stroke-dashoffset="0.8"/>
<polyline points="355.7,132.0 357.5,135.0 359.5,137.7" stroke-width="0.54" stroke="#3a3a3a"/>
<polyline points="355.7,132.0 357.5,135.0 359.5,137.7" stroke-width="1.22" stroke-dasharray="0.4 2.0" stroke-dashoffset="1.8"/>
<polyline points="360.5,148.2 367.2,148.2" stroke-width="0.72" stroke="#3a3a3a"/>
<polyline points="360.5,148.2 367.2,148.2" stroke-width="1.62" stroke-dasharray="0.4 2.2" stroke-dashoffset="0.9"/>
<polyline points="393.8,141.5 395.7,147.3 397.7,153.0 400.5,158.7 400.5,162.5" stroke-width="0.60" stroke="#3a3a3a"/>
<polyline points="393.8,141.5 395.7,147.3 397.7,153.0 400.5,158.7 400.5,162.5" stroke-width="1.35" stroke-dasharray="0.4 2.5" stroke-dashoffset="1.8"/>
<polyline points="391.0,143.4 394.0,145.0 396.7,146.3" stroke-width="0.54" stroke="#3a3a3a"/>
<polyline points="391.0,143.4 394.0,145.0 396.7,146.3" stroke-width="1.22" stroke-dasharray="0.4 2.3" stroke-dashoffset="1.8"/>
<polyline points="403.4,140.8 408.0,141.5 415.0,143.4" stroke-width="0.66" stroke="#3a3a3a"/>
<polyline points="403.4,140.8 408.0,141.5 415.0,143.4" stroke-width="1.49" stroke-dasharray="0.4 2.4" stroke-dashoffset="1.1"/>
<polyline points="350.0,172.0 353.0,173.0 355.7,174.0" stroke-width="0.60" stroke="#3a3a3a"/>
<polyline points="350.0,172.0 353.0,173.0 355.7,174.0" stroke-width="1.35" stroke-dasharray="0.4 2.4" stroke-dashoffset="0.0"/>
<polyline points="357.6,176.8 362.0,178.5 366.2,180.6" stroke-width="0.72" stroke="#3a3a3a"/>
<polyline points="357.6,176.8 362.0,178.5 366.2,180.6" stroke-width="1.62" stroke-dasharray="0.4 2.3" stroke-dashoffset="0.4"/>
<polyline points="367.0,182.5 372.9,186.3" stroke-width="0.60" stroke="#3a3a3a"/>
<polyline points="367.0,182.5 372.9,186.3" stroke-width="1.35" stroke-dasharray="0.4 1.8" stroke-dashoffset="1.6"/>
<polyline points="384.3,170.1 388.1,173.0 395.7,172.0 401.5,170.1" stroke-width="0.54" stroke="#3a3a3a"/>
<polyline points="384.3,170.1 388.1,173.0 395.7,172.0 401.5,170.1" stroke-width="1.22" stroke-dasharray="0.4 2.0" stroke-dashoffset="0.9"/>
<polyline points="384.3,170.1 381.5,174.9 377.6,177.7 373.8,183.5 370.0,186.3" stroke-width="0.54" stroke="#3a3a3a"/>
<polyline points="384.3,170.1 381.5,174.9 377.6,177.7 373.8,183.5 370.0,186.3" stroke-width="1.22" stroke-dasharray="0.4 2.7" stroke-dashoffset="1.1"/>
<polyline points="399.6,175.8 401.0,180.0 402.4,185.4" stroke-width="0.60" stroke="#3a3a3a"/>
<polyline points="399.6,175.8 401.0,180.0 402.4,185.4" stroke-width="1.35" stroke-dasharray="0.4 2.2" stroke-dashoffset="1.0"/>
<polyline points="411.0,168.5 415.0,170.0" stroke-width="0.96" stroke="#3a3a3a"/>
<polyline points="411.0,168.5 415.0,170.0" stroke-width="2.16" stroke-dasharray="0.4 2.5" stroke-dashoffset="1.6"/>
<polyline points="374.8,187.3 378.0,188.5 382.4,189.2" stroke-width="0.54" stroke="#3a3a3a"/>
<polyline points="374.8,187.3 378.0,188.5 382.4,189.2" stroke-width="1.22" stroke-dasharray="0.4 1.9" stroke-dashoffset="1.1"/>
<polyline points="391.0,189.2 393.8,193.0" stroke-width="0.54" stroke="#3a3a3a"/>
<polyline points="391.0,189.2 393.8,193.0" stroke-width="1.22" stroke-dasharray="0.4 2.1" stroke-dashoffset="0.6"/>
<polyline points="350.0,187.3 353.8,189.2" stroke-width="0.60" stroke="#3a3a3a"/>
<polyline points="350.0,187.3 353.8,189.2" stroke-width="1.35" stroke-dasharray="0.4 2.7" stroke-dashoffset="1.0"/>
<polyline points="358.6,193.0 365.2,193.0" stroke-width="0.54" stroke="#3a3a3a"/>
<polyline points="358.6,193.0 365.2,193.0" stroke-width="1.22" stroke-dasharray="0.4 2.5" stroke-dashoffset="1.5"/>
<polyline points="414.0,150.0 417.0,151.5 419.7,153.0" stroke-width="2.6"/>
<polyline points="430.2,134.0 432.0,135.5 433.0,136.8" stroke-width="0.60" stroke="#3a3a3a"/>
<polyline points="430.2,134.0 432.0,135.5 433.0,136.8" stroke-width="1.35" stroke-dasharray="0.4 2.9" stroke-dashoffset="0.9"/>
<polyline points="425.4,141.5 429.0,142.5 433.0,143.4 437.0,143.0 440.0,142.5" stroke-width="0.72" stroke="#3a3a3a"/>
<polyline points="425.4,141.5 429.0,142.5 433.0,143.4 437.0,143.0 440.0,142.5" stroke-width="1.62" stroke-dasharray="0.4 2.5" stroke-dashoffset="1.0"/>
<polyline points="433.0,143.4 434.0,148.0 435.0,153.0 435.9,160.6 436.9,170.1 435.0,175.8" stroke-width="0.54" stroke="#3a3a3a"/>
<polyline points="433.0,143.4 434.0,148.0 435.0,153.0 435.9,160.6 436.9,170.1 435.0,175.8" stroke-width="1.22" stroke-dasharray="0.4 2.4" stroke-dashoffset="1.4"/>
<polyline points="414.0,168.2 416.0,172.0 417.8,175.8" stroke-width="0.54" stroke="#3a3a3a"/>
<polyline points="414.0,168.2 416.0,172.0 417.8,175.8" stroke-width="1.22" stroke-dasharray="0.4 2.3" stroke-dashoffset="1.1"/>
<polyline points="433.0,176.8 438.0,176.0 440.7,179.0 439.5,184.0 435.0,185.4 432.0,183.0" stroke-width="0.54" stroke="#3a3a3a"/>
<polyline points="433.0,176.8 438.0,176.0 440.7,179.0 439.5,184.0 435.0,185.4 432.0,183.0" stroke-width="1.22" stroke-dasharray="0.4 2.4" stroke-dashoffset="1.9"/>
<polyline points="414.0,181.0 418.0,189.0" stroke-width="0.54" stroke="#3a3a3a"/>
<polyline points="414.0,181.0 418.0,189.0" stroke-width="1.22" stroke-dasharray="0.4 2.6" stroke-dashoffset="1.8"/>
<polyline points="446.8,122.3 452.0,124.5 458.0,126.8" stroke-width="0.54" stroke="#3a3a3a"/>
<polyline points="446.8,122.3 452.0,124.5 458.0,126.8" stroke-width="1.22" stroke-dasharray="0.4 2.9" stroke-dashoffset="0.5"/>
<polyline points="440.0,142.5 447.0,140.0 453.5,138.0 458.5,137.0 463.7,135.8 469.3,133.5 475.0,130.1 477.5,127.0 479.4,123.4" stroke-width="0.72" stroke="#3a3a3a"/>
<polyline points="440.0,142.5 447.0,140.0 453.5,138.0 458.5,137.0 463.7,135.8 469.3,133.5 475.0,130.1 477.5,127.0 479.4,123.4" stroke-width="1.62" stroke-dasharray="0.4 2.5" stroke-dashoffset="1.9"/>
<polyline points="463.0,135.5 467.0,134.8 473.8,136.5" stroke-width="2.2"/>
<polyline points="469.3,133.5 470.0,138.0 470.4,142.5 473.8,144.8" stroke-width="0.66" stroke="#3a3a3a"/>
<polyline points="469.3,133.5 470.0,138.0 470.4,142.5 473.8,144.8" stroke-width="1.49" stroke-dasharray="0.4 2.8" stroke-dashoffset="0.3"/>
<polyline points="473.8,140.3 478.0,140.8 482.8,141.4" stroke-width="0.72" stroke="#3a3a3a"/>
<polyline points="473.8,140.3 478.0,140.8 482.8,141.4" stroke-width="1.62" stroke-dasharray="0.4 1.9" stroke-dashoffset="0.9"/>
<polyline points="521.5,135.0 526.0,130.0 530.0,125.5 535.0,121.5 540.0,118.5" stroke-width="1.9"/>
<polyline points="503.0,142.5 507.5,140.5 512.0,138.0" stroke-width="2.0"/>
<polyline points="507.6,141.5 509.8,144.8" stroke-width="0.72" stroke="#3a3a3a"/>
<polyline points="507.6,141.5 509.8,144.8" stroke-width="1.62" stroke-dasharray="0.4 1.9" stroke-dashoffset="0.5"/>
<polyline points="516.6,142.5 521.0,141.4" stroke-width="0.60" stroke="#3a3a3a"/>
<polyline points="516.6,142.5 521.0,141.4" stroke-width="1.35" stroke-dasharray="0.4 1.9" stroke-dashoffset="1.3"/>
<polyline points="485.0,147.0 488.0,150.5 491.0,154.0 494.0,157.2" stroke-width="1.8"/>
<polyline points="489.6,151.5 495.0,154.0 502.0,158.3" stroke-width="0.96" stroke="#3a3a3a"/>
<polyline points="489.6,151.5 495.0,154.0 502.0,158.3" stroke-width="2.16" stroke-dasharray="0.4 2.7" stroke-dashoffset="1.8"/>
<polyline points="469.3,154.0 468.0,160.0 467.0,165.0 468.5,169.0 469.3,171.8" stroke-width="0.54" stroke="#3a3a3a"/>
<polyline points="469.3,154.0 468.0,160.0 467.0,165.0 468.5,169.0 469.3,171.8" stroke-width="1.22" stroke-dasharray="0.4 2.0" stroke-dashoffset="1.4"/>
<polyline points="507.6,151.5 513.0,152.5 520.0,153.8" stroke-width="0.66" stroke="#3a3a3a"/>
<polyline points="507.6,151.5 513.0,152.5 520.0,153.8" stroke-width="1.49" stroke-dasharray="0.4 2.6" stroke-dashoffset="0.3"/>
<polyline points="518.9,149.3 523.4,151.5" stroke-width="0.60" stroke="#3a3a3a"/>
<polyline points="518.9,149.3 523.4,151.5" stroke-width="1.35" stroke-dasharray="0.4 2.9" stroke-dashoffset="1.9"/>
<polyline points="530.0,147.0 537.0,147.5 545.0,148.2" stroke-width="2.0"/>
<polyline points="518.9,157.2 521.0,159.0 523.4,160.6" stroke-width="2.2"/>
<polyline points="527.9,162.8 530.5,167.0 532.5,171.0 534.6,174.0" stroke-width="2.4"/>
<polyline points="525.6,165.0 527.9,170.6" stroke-width="0.84" stroke="#3a3a3a"/>
<polyline points="525.6,165.0 527.9,170.6" stroke-width="1.89" stroke-dasharray="0.4 2.1" stroke-dashoffset="1.9"/>
<polyline points="500.8,164.0 503.5,167.5 505.5,170.0 507.6,171.8" stroke-width="2.2"/>
<polyline points="464.8,171.8 469.3,174.0" stroke-width="0.60" stroke="#3a3a3a"/>
<polyline points="464.8,171.8 469.3,174.0" stroke-width="1.35" stroke-dasharray="0.4 2.3" stroke-dashoffset="1.0"/>
<polyline points="471.5,162.8 477.2,164.0" stroke-width="0.66" stroke="#3a3a3a"/>
<polyline points="471.5,162.8 477.2,164.0" stroke-width="1.49" stroke-dasharray="0.4 3.0" stroke-dashoffset="1.7"/>
<polyline points="496.3,174.0 500.0,176.5 505.3,180.8" stroke-width="0.84" stroke="#3a3a3a"/>
<polyline points="496.3,174.0 500.0,176.5 505.3,180.8" stroke-width="1.89" stroke-dasharray="0.4 2.0" stroke-dashoffset="0.9"/>
<polyline points="507.6,176.3 511.0,178.5 514.0,180.5 516.6,183.1" stroke-width="2.0"/>
<polyline points="512.0,181.0 514.5,183.0" stroke-width="0.72" stroke="#3a3a3a"/>
<polyline points="512.0,181.0 514.5,183.0" stroke-width="1.62" stroke-dasharray="0.4 2.4" stroke-dashoffset="0.7"/>
<polyline points="530.0,183.0 536.9,184.2" stroke-width="0.72" stroke="#3a3a3a"/>
<polyline points="530.0,183.0 536.9,184.2" stroke-width="1.62" stroke-dasharray="0.4 2.0" stroke-dashoffset="0.6"/>
<polyline points="462.5,183.1 464.8,187.6" stroke-width="0.60" stroke="#3a3a3a"/>
<polyline points="462.5,183.1 464.8,187.6" stroke-width="1.35" stroke-dasharray="0.4 2.7" stroke-dashoffset="0.0"/>
<polyline points="478.0,146.5 481.0,148.5" stroke-width="0.72" stroke="#3a3a3a"/>
<polyline points="478.0,146.5 481.0,148.5" stroke-width="1.62" stroke-dasharray="0.4 2.5" stroke-dashoffset="0.9"/>
<polyline points="535.5,132.0 541.0,129.0" stroke-width="0.96" stroke="#3a3a3a"/>
<polyline points="535.5,132.0 541.0,129.0" stroke-width="2.16" stroke-dasharray="0.4 1.8" stroke-dashoffset="0.7"/>
<polyline points="540.0,160.0 545.0,163.0" stroke-width="0.60" stroke="#3a3a3a"/>
<polyline points="540.0,160.0 545.0,163.0" stroke-width="1.35" stroke-dasharray="0.4 2.5" stroke-dashoffset="1.0"/>
<polyline points="452.0,94.0 453.5,96.0" stroke-width="2.0"/>
<polyline points="462.0,84.0 464.5,80.5" stroke-width="0.96" stroke="#3a3a3a"/>
<polyline points="462.0,84.0 464.5,80.5" stroke-width="2.16" stroke-dasharray="0.4 1.9" stroke-dashoffset="2.0"/>
<polyline points="472.5,99.0 473.5,104.5" stroke-width="2.2"/>
<polyline points="471.6,115.0 475.0,117.5 479.0,120.0 483.0,122.5" stroke-width="1.8"/>
<polyline points="476.0,123.0 479.5,119.0" stroke-width="0.72" stroke="#3a3a3a"/>
<polyline points="476.0,123.0 479.5,119.0" stroke-width="1.62" stroke-dasharray="0.4 2.7" stroke-dashoffset="1.9"/>
<polyline points="345.2,80.5 350.0,73.0 356.3,66.3 362.0,62.5 368.5,60.2 373.5,58.2" stroke-width="0.72" stroke="#3a3a3a"/>
<polyline points="345.2,80.5 350.0,73.0 356.3,66.3 362.0,62.5 368.5,60.2 373.5,58.2" stroke-width="1.62" stroke-dasharray="0.4 1.9" stroke-dashoffset="0.5"/>
<polyline points="345.2,80.5 347.0,85.0 350.2,88.6 354.3,91.6" stroke-width="0.66" stroke="#3a3a3a"/>
<polyline points="345.2,80.5 347.0,85.0 350.2,88.6 354.3,91.6" stroke-width="1.49" stroke-dasharray="0.4 1.8" stroke-dashoffset="1.6"/>
<polyline points="384.7,58.2 388.0,66.0 390.5,73.0 392.8,78.5" stroke-width="0.48" stroke="#3a3a3a"/>
<polyline points="384.7,58.2 388.0,66.0 390.5,73.0 392.8,78.5" stroke-width="1.08" stroke-dasharray="0.4 2.1" stroke-dashoffset="0.3"/>
<polyline points="396.8,52.0 405.0,49.0 412.0,46.5 417.0,44.0" stroke-width="0.48" stroke="#3a3a3a"/>
<polyline points="396.8,52.0 405.0,49.0 412.0,46.5 417.0,44.0" stroke-width="1.08" stroke-dasharray="0.4 2.3" stroke-dashoffset="1.8"/>
<ellipse cx="314.5" cy="9.5" rx="1.2" ry="1.2" fill="#1c1c1c" stroke="none"/>
<ellipse cx="314.5" cy="20.5" rx="2.0" ry="1.5" fill="#1c1c1c" stroke="none" transform="rotate(40 314.5 20.5)"/>
<ellipse cx="309.5" cy="27.2" rx="1.2" ry="1.2" fill="#1c1c1c" stroke="none"/>
<ellipse cx="332.3" cy="26.2" rx="1.9" ry="1.9" fill="#1c1c1c" stroke="none"/>
<ellipse cx="345.7" cy="50.0" rx="1.4" ry="1.4" fill="#1c1c1c" stroke="none"/>
<ellipse cx="343.3" cy="60.4" rx="1.7" ry="1.7" fill="#1c1c1c" stroke="none"/>
<ellipse cx="368.8" cy="18.1" rx="1.8" ry="1.8" fill="#1c1c1c" stroke="none"/>
<ellipse cx="351.9" cy="32.2" rx="0.9" ry="0.9" fill="#1c1c1c" stroke="none"/>
<ellipse cx="365.5" cy="39.5" rx="2.0" ry="2.5" fill="#1c1c1c" stroke="none"/>
<ellipse cx="357.5" cy="49.1" rx="1.7" ry="1.7" fill="#1c1c1c" stroke="none"/>
<ellipse cx="390.4" cy="28.4" rx="1.0" ry="1.0" fill="#1c1c1c" stroke="none"/>
<ellipse cx="380.0" cy="45.3" rx="1.0" ry="1.0" fill="#1c1c1c" stroke="none"/>
<ellipse cx="388.5" cy="52.8" rx="1.6" ry="1.6" fill="#1c1c1c" stroke="none"/>
<ellipse cx="384.5" cy="58.5" rx="1.4" ry="1.4" fill="#1c1c1c" stroke="none"/>
<ellipse cx="400.7" cy="35.0" rx="1.0" ry="1.0" fill="#1c1c1c" stroke="none"/>
<ellipse cx="411.0" cy="36.9" rx="1.5" ry="1.5" fill="#1c1c1c" stroke="none"/>
<ellipse cx="406.4" cy="43.5" rx="1.8" ry="1.8" fill="#1c1c1c" stroke="none"/>
<ellipse cx="416.8" cy="17.2" rx="0.9" ry="0.9" fill="#1c1c1c" stroke="none"/>
<ellipse cx="443.1" cy="28.4" rx="2.2" ry="2.2" fill="#1c1c1c" stroke="none"/>
<ellipse cx="422.3" cy="41.2" rx="1.6" ry="1.6" fill="#1c1c1c" stroke="none"/>
<ellipse cx="470.4" cy="34.0" rx="1.5" ry="1.5" fill="#1c1c1c" stroke="none"/>
<ellipse cx="469.6" cy="38.8" rx="1.1" ry="1.1" fill="#1c1c1c" stroke="none"/>
<ellipse cx="439.3" cy="66.3" rx="2.2" ry="2.2" fill="#1c1c1c" stroke="none"/>
<ellipse cx="496.8" cy="30.0" rx="1.9" ry="1.9" fill="#1c1c1c" stroke="none"/>
<ellipse cx="481.7" cy="55.6" rx="1.2" ry="2.0" fill="#1c1c1c" stroke="none"/>
<ellipse cx="485.5" cy="32.2" rx="1.1" ry="1.1" fill="#1c1c1c" stroke="none"/>
<ellipse cx="486.5" cy="61.5" rx="1.0" ry="1.0" fill="#1c1c1c" stroke="none"/>
<ellipse cx="513.0" cy="35.0" rx="1.8" ry="1.3" fill="#1c1c1c" stroke="none" transform="rotate(30 513.0 35.0)"/>
<ellipse cx="518.5" cy="44.0" rx="1.4" ry="2.2" fill="#1c1c1c" stroke="none"/>
<ellipse cx="514.5" cy="55.0" rx="1.4" ry="2.0" fill="#1c1c1c" stroke="none"/>
<ellipse cx="522.5" cy="28.0" rx="1.5" ry="2.4" fill="#1c1c1c" stroke="none"/>
<ellipse cx="530.0" cy="36.5" rx="2.0" ry="1.4" fill="#1c1c1c" stroke="none" transform="rotate(-25 530.0 36.5)"/>
<ellipse cx="508.5" cy="64.0" rx="2.0" ry="1.5" fill="#1c1c1c" stroke="none"/>
<ellipse cx="536.5" cy="23.2" rx="1.6" ry="1.2" fill="#1c1c1c" stroke="none"/>
<ellipse cx="526.8" cy="49.0" rx="1.6" ry="1.4" fill="#1c1c1c" stroke="none"/>
<ellipse cx="521.0" cy="63.0" rx="1.6" ry="2.4" fill="#1c1c1c" stroke="none"/>
<ellipse cx="295.4" cy="86.8" rx="1.9" ry="1.6" fill="#1c1c1c" stroke="none"/>
<ellipse cx="309.9" cy="83.9" rx="1.8" ry="2.0" fill="#1c1c1c" stroke="none"/>
<ellipse cx="326.2" cy="78.5" rx="2.6" ry="2.2" fill="#1c1c1c" stroke="none"/>
<ellipse cx="335.8" cy="82.0" rx="0.9" ry="0.9" fill="#1c1c1c" stroke="none"/>
<ellipse cx="340.5" cy="96.2" rx="1.2" ry="1.2" fill="#1c1c1c" stroke="none"/>
<ellipse cx="327.3" cy="107.9" rx="2.6" ry="1.9" fill="#1c1c1c" stroke="none"/>
<ellipse cx="325.5" cy="112.1" rx="1.0" ry="1.0" fill="#1c1c1c" stroke="none"/>
<ellipse cx="305.7" cy="118.7" rx="1.9" ry="1.2" fill="#1c1c1c" stroke="none"/>
<ellipse cx="288.0" cy="128.0" rx="1.8" ry="1.8" fill="#1c1c1c" stroke="none"/>
<ellipse cx="293.5" cy="128.2" rx="0.8" ry="0.8" fill="#1c1c1c" stroke="none"/>
<ellipse cx="407.5" cy="76.2" rx="1.8" ry="1.4" fill="#1c1c1c" stroke="none"/>
<ellipse cx="352.5" cy="91.2" rx="2.4" ry="2.4" fill="#1c1c1c" stroke="none"/>
<ellipse cx="368.8" cy="85.8" rx="1.4" ry="1.4" fill="#1c1c1c" stroke="none"/>
<ellipse cx="365.0" cy="70.8" rx="1.1" ry="1.1" fill="#1c1c1c" stroke="none"/>
<ellipse cx="378.0" cy="70.8" rx="0.8" ry="0.8" fill="#1c1c1c" stroke="none"/>
<ellipse cx="352.8" cy="107.5" rx="0.8" ry="0.8" fill="#1c1c1c" stroke="none"/>
<ellipse cx="362.2" cy="107.5" rx="1.0" ry="1.0" fill="#1c1c1c" stroke="none"/>
<ellipse cx="373.5" cy="107.5" rx="0.9" ry="0.9" fill="#1c1c1c" stroke="none"/>
<ellipse cx="376.3" cy="111.2" rx="1.2" ry="1.2" fill="#1c1c1c" stroke="none"/>
<ellipse cx="400.5" cy="111.0" rx="2.6" ry="2.0" fill="#1c1c1c" stroke="none"/>
<ellipse cx="410.1" cy="102.8" rx="0.8" ry="0.8" fill="#1c1c1c" stroke="none"/>
<ellipse cx="413.5" cy="70.0" rx="1.6" ry="1.6" fill="#1c1c1c" stroke="none"/>
<ellipse cx="443.5" cy="79.2" rx="2.4" ry="1.5" fill="#1c1c1c" stroke="none" transform="rotate(25 443.5 79.2)"/>
<ellipse cx="452.0" cy="86.0" rx="2.2" ry="2.8" fill="#1c1c1c" stroke="none"/>
<ellipse cx="459.0" cy="88.5" rx="2.6" ry="2.2" fill="#1c1c1c" stroke="none"/>
<ellipse cx="452.5" cy="93.4" rx="1.4" ry="2.4" fill="#1c1c1c" stroke="none"/>
<ellipse cx="464.0" cy="101.8" rx="0.9" ry="0.9" fill="#1c1c1c" stroke="none"/>
<ellipse cx="541.8" cy="75.5" rx="1.5" ry="1.5" fill="#1c1c1c" stroke="none"/>
<ellipse cx="485.5" cy="98.5" rx="1.6" ry="1.3" fill="#1c1c1c" stroke="none"/>
<ellipse cx="482.2" cy="104.5" rx="1.4" ry="1.4" fill="#1c1c1c" stroke="none"/>
<ellipse cx="529.6" cy="97.1" rx="1.0" ry="1.0" fill="#1c1c1c" stroke="none"/>
<ellipse cx="520.2" cy="128.1" rx="1.9" ry="1.9" fill="#1c1c1c" stroke="none"/>
<ellipse cx="491.1" cy="131.8" rx="1.5" ry="1.5" fill="#1c1c1c" stroke="none"/>
<ellipse cx="323.2" cy="134.5" rx="2.0" ry="2.3" fill="#1c1c1c" stroke="none"/>
<ellipse cx="292.5" cy="151.5" rx="0.7" ry="0.7" fill="#1c1c1c" stroke="none"/>
<ellipse cx="296.5" cy="152.2" rx="0.7" ry="0.7" fill="#1c1c1c" stroke="none"/>
<ellipse cx="300.5" cy="152.8" rx="0.6" ry="0.6" fill="#1c1c1c" stroke="none"/>
<ellipse cx="348.9" cy="154.9" rx="2.0" ry="2.0" fill="#1c1c1c" stroke="none"/>
<ellipse cx="368.5" cy="139.0" rx="2.2" ry="1.6" fill="#1c1c1c" stroke="none"/>
<ellipse cx="365.3" cy="156.3" rx="3.0" ry="1.5" fill="#1c1c1c" stroke="none" transform="rotate(-15 365.3 156.3)"/>
<ellipse cx="374.8" cy="155.8" rx="1.2" ry="1.2" fill="#1c1c1c" stroke="none"/>
<ellipse cx="379.5" cy="151.0" rx="1.5" ry="1.5" fill="#1c1c1c" stroke="none"/>
<ellipse cx="405.3" cy="134.9" rx="1.5" ry="1.5" fill="#1c1c1c" stroke="none"/>
<ellipse cx="401.5" cy="140.6" rx="0.8" ry="0.8" fill="#1c1c1c" stroke="none"/>
<ellipse cx="413.5" cy="150.5" rx="1.8" ry="1.8" fill="#1c1c1c" stroke="none"/>
<ellipse cx="374.8" cy="166.3" rx="1.8" ry="1.4" fill="#1c1c1c" stroke="none"/>
<ellipse cx="357.6" cy="161.5" rx="0.8" ry="0.8" fill="#1c1c1c" stroke="none"/>
<ellipse cx="364.5" cy="166.5" rx="0.8" ry="0.8" fill="#1c1c1c" stroke="none"/>
<ellipse cx="415.5" cy="138.5" rx="1.8" ry="2.2" fill="#1c1c1c" stroke="none"/>
<ellipse cx="438.5" cy="136.8" rx="2.2" ry="1.5" fill="#1c1c1c" stroke="none"/>
<ellipse cx="432.2" cy="178.7" rx="1.4" ry="1.4" fill="#1c1c1c" stroke="none"/>
<ellipse cx="427.3" cy="182.5" rx="2.0" ry="1.2" fill="#1c1c1c" stroke="none"/>
<ellipse cx="441.0" cy="136.5" rx="1.8" ry="1.8" fill="#1c1c1c" stroke="none"/>
<ellipse cx="487.3" cy="132.4" rx="2.0" ry="2.0" fill="#1c1c1c" stroke="none"/>
<ellipse cx="490.7" cy="131.3" rx="1.4" ry="1.4" fill="#1c1c1c" stroke="none"/>
<ellipse cx="520.0" cy="127.9" rx="2.3" ry="2.3" fill="#1c1c1c" stroke="none"/>
<ellipse cx="468.7" cy="152.0" rx="1.4" ry="2.4" fill="#1c1c1c" stroke="none"/>
<ellipse cx="458.0" cy="152.7" rx="1.5" ry="1.5" fill="#1c1c1c" stroke="none"/>
<ellipse cx="453.5" cy="168.4" rx="1.8" ry="1.8" fill="#1c1c1c" stroke="none"/>
<ellipse cx="457.0" cy="167.3" rx="0.9" ry="0.9" fill="#1c1c1c" stroke="none"/>
<ellipse cx="494.0" cy="176.3" rx="1.9" ry="1.9" fill="#1c1c1c" stroke="none"/>
<ellipse cx="525.6" cy="180.8" rx="1.8" ry="1.8" fill="#1c1c1c" stroke="none"/>
<ellipse cx="451.5" cy="87.5" rx="2.3" ry="4.8" fill="#1c1c1c" stroke="none"/>
<ellipse cx="459.8" cy="89.5" rx="3.2" ry="3.6" fill="#1c1c1c" stroke="none"/>
<ellipse cx="447.8" cy="83.0" rx="1.8" ry="1.8" fill="#1c1c1c" stroke="none"/>
<ellipse cx="470.5" cy="105.0" rx="2.6" ry="1.6" fill="#1c1c1c" stroke="none"/>
<ellipse cx="476.0" cy="118.0" rx="1.6" ry="1.1" fill="#1c1c1c" stroke="none" transform="rotate(30 476.0 118.0)"/>
</g></g>
<rect x="480.80" y="6.90" width="56.10" height="12.10" fill="#fff" stroke="#222" stroke-width="0.90"/>
<text x="508.4" y="13.2" font-size="5" text-anchor="middle" fill="#111" font-family='"Liberation Sans", sans-serif'>100 &#956;m</text>
<line x1="482.20" y1="15.90" x2="534.80" y2="15.90" stroke="#111" stroke-width="1.20"/>
<path d="M482 15.9l2.2 -1.3v2.6z M535 15.9l-2.2 -1.3v2.6z" fill="#111"/>
<path transform="translate(457.30 44.80) rotate(5.0)" d="M0 0 L5.7 11.3 L2.1 11.3 L2.1 21.6 L-2.1 21.6 L-2.1 11.3 L-5.7 11.3 Z" fill="#f2136a"/>
<path transform="translate(419.90 83.30) rotate(5.0)" d="M0 0 L5.7 11.3 L2.1 11.3 L2.1 21.6 L-2.1 21.6 L-2.1 11.3 L-5.7 11.3 Z" fill="#f2136a"/>
<path transform="translate(386.70 128.30) rotate(5.0)" d="M0 0 L5.7 11.3 L2.1 11.3 L2.1 21.6 L-2.1 21.6 L-2.1 11.3 L-5.7 11.3 Z" fill="#f2136a"/>
<rect x="286.50" y="4.50" width="15.00" height="17.50" fill="#fff" stroke="#3a3a3a" stroke-width="1.00"/>
<text x="294.00" y="17.05" font-size="10.5" text-anchor="middle" fill="#222" font-family='"Liberation Sans", sans-serif'>b</text>
<text x="539.00" y="194.20" font-size="9.90" text-anchor="end" fill="#fff" font-weight="bold" textLength="138.5" lengthAdjust="spacingAndGlyphs">EN AC 45300 + Al-Ti-B+Al-Sr10</text>
<rect x="4.50" y="210.50" width="258.20" height="128.50" fill="#fff" stroke="#d9d9d9" stroke-width="1.00"/>
<rect x="4.50" y="209.50" width="15.00" height="18.00" fill="#fff" stroke="#3a3a3a" stroke-width="1.00"/>
<text x="12.00" y="222.30" font-size="10.5" text-anchor="middle" fill="#222" font-family='"Liberation Sans", sans-serif'>c</text>
<text x="133.20" y="227.00" font-size="9.40" text-anchor="middle" fill="#595959" font-weight="bold" textLength="76.4" lengthAdjust="spacingAndGlyphs">&#945;-Fe EN AC 45300</text>
<line x1="52.70" y1="290.60" x2="246.80" y2="290.60" stroke="#d9d9d9" stroke-width="0.90"/>
<text x="44.60" y="293.90" font-size="8.00" text-anchor="end" fill="#595959" font-weight="normal">0</text>
<line x1="52.70" y1="278.12" x2="246.80" y2="278.12" stroke="#d9d9d9" stroke-width="0.90"/>
<text x="44.60" y="281.43" font-size="8.00" text-anchor="end" fill="#595959" font-weight="normal">0.005</text>
<line x1="52.70" y1="265.65" x2="246.80" y2="265.65" stroke="#d9d9d9" stroke-width="0.90"/>
<text x="44.60" y="268.95" font-size="8.00" text-anchor="end" fill="#595959" font-weight="normal">0.01</text>
<line x1="52.70" y1="253.18" x2="246.80" y2="253.18" stroke="#d9d9d9" stroke-width="0.90"/>
<text x="44.60" y="256.48" font-size="8.00" text-anchor="end" fill="#595959" font-weight="normal">0.015</text>
<line x1="52.70" y1="240.70" x2="246.80" y2="240.70" stroke="#d9d9d9" stroke-width="0.90"/>
<text x="44.60" y="244.00" font-size="8.00" text-anchor="end" fill="#595959" font-weight="normal">0.02</text>
<line x1="52.70" y1="240.70" x2="52.70" y2="290.60" stroke="#d9d9d9" stroke-width="0.90"/>
<text x="52.70" y="305.60" font-size="8.00" text-anchor="middle" fill="#595959" font-weight="normal">0</text>
<line x1="101.23" y1="240.70" x2="101.23" y2="290.60" stroke="#d9d9d9" stroke-width="0.90"/>
<text x="101.23" y="305.60" font-size="8.00" text-anchor="middle" fill="#595959" font-weight="normal">50</text>
<line x1="149.75" y1="240.70" x2="149.75" y2="290.60" stroke="#d9d9d9" stroke-width="0.90"/>
<text x="149.75" y="305.60" font-size="8.00" text-anchor="middle" fill="#595959" font-weight="normal">100</text>
<line x1="198.28" y1="240.70" x2="198.28" y2="290.60" stroke="#d9d9d9" stroke-width="0.90"/>
<text x="198.28" y="305.60" font-size="8.00" text-anchor="middle" fill="#595959" font-weight="normal">150</text>
<line x1="246.80" y1="240.70" x2="246.80" y2="290.60" stroke="#d9d9d9" stroke-width="0.90"/>
<text x="246.80" y="305.60" font-size="8.00" text-anchor="middle" fill="#595959" font-weight="normal">200</text>
<text x="85.20" y="315.50" font-size="8.60" text-anchor="start" fill="#595959" font-weight="normal" textLength="111.8" lengthAdjust="spacingAndGlyphs">Intermetallic area values [&#956;m<tspan font-size="5.5" dy="-3">2</tspan><tspan dy="3">]</tspan></text>
<text transform="translate(18.2,266.1) rotate(-90)" font-size="8.6" text-anchor="middle" fill="#595959" textLength="37.8" lengthAdjust="spacingAndGlyphs">Frequency.</text>
<path d="M72.7 279.1 C80 266 88 250 97 246.5 C101 244.8 106 244.2 111.3 243.5 L132.7 269.3" fill="none" stroke="#ee2b2b" stroke-width="1.3" stroke-linejoin="round"/>
<path d="M77.1 273.6 C88 268 98 263.4 107.6 263.4 C118 263.4 126 266 134 270 C150 277 162 281 173.1 284.5" fill="none" stroke="#2f4c8c" stroke-width="1.3"/>
<path d="M65.1 281 C80 279 95 275.8 107.6 275.8 C140 276.5 175 280 206.3 284.2" fill="none" stroke="#f3a46e" stroke-width="1.3"/>
<line x1="21.10" y1="325.50" x2="39.30" y2="325.50" stroke="#ee2b2b" stroke-width="1.40"/>
<text x="41.50" y="328.40" font-size="8.60" text-anchor="start" fill="#595959" font-weight="normal" textLength="43.7" lengthAdjust="spacingAndGlyphs">No-additive</text>
<line x1="89.30" y1="325.50" x2="106.80" y2="325.50" stroke="#f3a46e" stroke-width="1.40"/>
<text x="108.50" y="328.40" font-size="8.60" text-anchor="start" fill="#595959" font-weight="normal" textLength="29.9" lengthAdjust="spacingAndGlyphs">Refining</text>
<line x1="143.00" y1="325.50" x2="160.90" y2="325.50" stroke="#2f4c8c" stroke-width="1.40"/>
<text x="162.60" y="328.40" font-size="8.60" text-anchor="start" fill="#595959" font-weight="normal" textLength="85.9" lengthAdjust="spacingAndGlyphs">Refining + Modification</text>
<rect x="287.50" y="210.50" width="257.00" height="128.50" fill="#fff" stroke="#d9d9d9" stroke-width="1.00"/>
<rect x="286.60" y="209.30" width="15.00" height="18.00" fill="#fff" stroke="#3a3a3a" stroke-width="1.00"/>
<text x="294.10" y="222.10" font-size="10.5" text-anchor="middle" fill="#222" font-family='"Liberation Sans", sans-serif'>d</text>
<text x="415.80" y="227.00" font-size="9.40" text-anchor="middle" fill="#595959" font-weight="bold" textLength="76.4" lengthAdjust="spacingAndGlyphs">&#945;-Fe EN AC 43500</text>
<line x1="321.70" y1="290.00" x2="531.10" y2="290.00" stroke="#d9d9d9" stroke-width="0.90"/>
<text x="313.20" y="293.30" font-size="8.00" text-anchor="end" fill="#595959" font-weight="normal">0</text>
<line x1="321.70" y1="264.50" x2="531.10" y2="264.50" stroke="#d9d9d9" stroke-width="0.90"/>
<text x="313.20" y="267.80" font-size="8.00" text-anchor="end" fill="#595959" font-weight="normal">0.05</text>
<line x1="321.70" y1="239.00" x2="531.10" y2="239.00" stroke="#d9d9d9" stroke-width="0.90"/>
<text x="313.20" y="242.30" font-size="8.00" text-anchor="end" fill="#595959" font-weight="normal">0.1</text>
<line x1="321.70" y1="239.00" x2="321.70" y2="290.00" stroke="#d9d9d9" stroke-width="0.90"/>
<text x="321.70" y="305.20" font-size="8.00" text-anchor="middle" fill="#595959" font-weight="normal">0</text>
<line x1="356.60" y1="239.00" x2="356.60" y2="290.00" stroke="#d9d9d9" stroke-width="0.90"/>
<text x="356.60" y="305.20" font-size="8.00" text-anchor="middle" fill="#595959" font-weight="normal">5</text>
<line x1="391.50" y1="239.00" x2="391.50" y2="290.00" stroke="#d9d9d9" stroke-width="0.90"/>
<text x="391.50" y="305.20" font-size="8.00" text-anchor="middle" fill="#595959" font-weight="normal">10</text>
<line x1="426.40" y1="239.00" x2="426.40" y2="290.00" stroke="#d9d9d9" stroke-width="0.90"/>
<text x="426.40" y="305.20" font-size="8.00" text-anchor="middle" fill="#595959" font-weight="normal">15</text>
<line x1="461.30" y1="239.00" x2="461.30" y2="290.00" stroke="#d9d9d9" stroke-width="0.90"/>
<text x="461.30" y="305.20" font-size="8.00" text-anchor="middle" fill="#595959" font-weight="normal">20</text>
<line x1="496.20" y1="239.00" x2="496.20" y2="290.00" stroke="#d9d9d9" stroke-width="0.90"/>
<text x="496.20" y="305.20" font-size="8.00" text-anchor="middle" fill="#595959" font-weight="normal">25</text>
<line x1="531.10" y1="239.00" x2="531.10" y2="290.00" stroke="#d9d9d9" stroke-width="0.90"/>
<text x="531.10" y="305.20" font-size="8.00" text-anchor="middle" fill="#595959" font-weight="normal">30</text>
<text x="367.30" y="314.90" font-size="8.60" text-anchor="start" fill="#595959" font-weight="normal" textLength="111.9" lengthAdjust="spacingAndGlyphs">Intermetallic area values [&#956;m<tspan font-size="5.5" dy="-3">2</tspan><tspan dy="3">]</tspan></text>
<text transform="translate(296.6,265.1) rotate(-90)" font-size="8.6" text-anchor="middle" fill="#595959" textLength="37.6" lengthAdjust="spacingAndGlyphs">Frequency</text>
<path d="M328.8 270.7 C340 262 352 253 363.8 251.3 C368 250.8 376 250.8 379.2 251.3 C395 262 418 272 434.2 280.8" fill="none" stroke="#f3a46e" stroke-width="1.3"/>
<path d="M358.6 270.7 C368 267 378 263.5 387.5 263.1 C400 262.8 415 265 430 267.4 C450 271 470 277 489 283.4" fill="none" stroke="#2f4c8c" stroke-width="1.3"/>
<path d="M388 268.3 C394 263 399 259 406.4 255.5 C414 251.5 422 249.4 430.6 249.4 C445 250 465 265 483.4 278.5" fill="none" stroke="#ee2b2b" stroke-width="1.3"/>
<line x1="304.20" y1="325.80" x2="320.70" y2="325.80" stroke="#ee2b2b" stroke-width="1.40"/>
<text x="323.30" y="328.70" font-size="8.60" text-anchor="start" fill="#595959" font-weight="normal" textLength="44.0" lengthAdjust="spacingAndGlyphs">No-additive</text>
<line x1="371.10" y1="325.80" x2="388.90" y2="325.80" stroke="#f3a46e" stroke-width="1.40"/>
<text x="390.70" y="328.70" font-size="8.60" text-anchor="start" fill="#595959" font-weight="normal" textLength="29.9" lengthAdjust="spacingAndGlyphs">Refining</text>
<line x1="426.00" y1="325.80" x2="443.10" y2="325.80" stroke="#2f4c8c" stroke-width="1.40"/>
<text x="445.10" y="328.70" font-size="8.60" text-anchor="start" fill="#595959" font-weight="normal" textLength="86.0" lengthAdjust="spacingAndGlyphs">Refining + Modification</text>
</svg>
</body></html>
